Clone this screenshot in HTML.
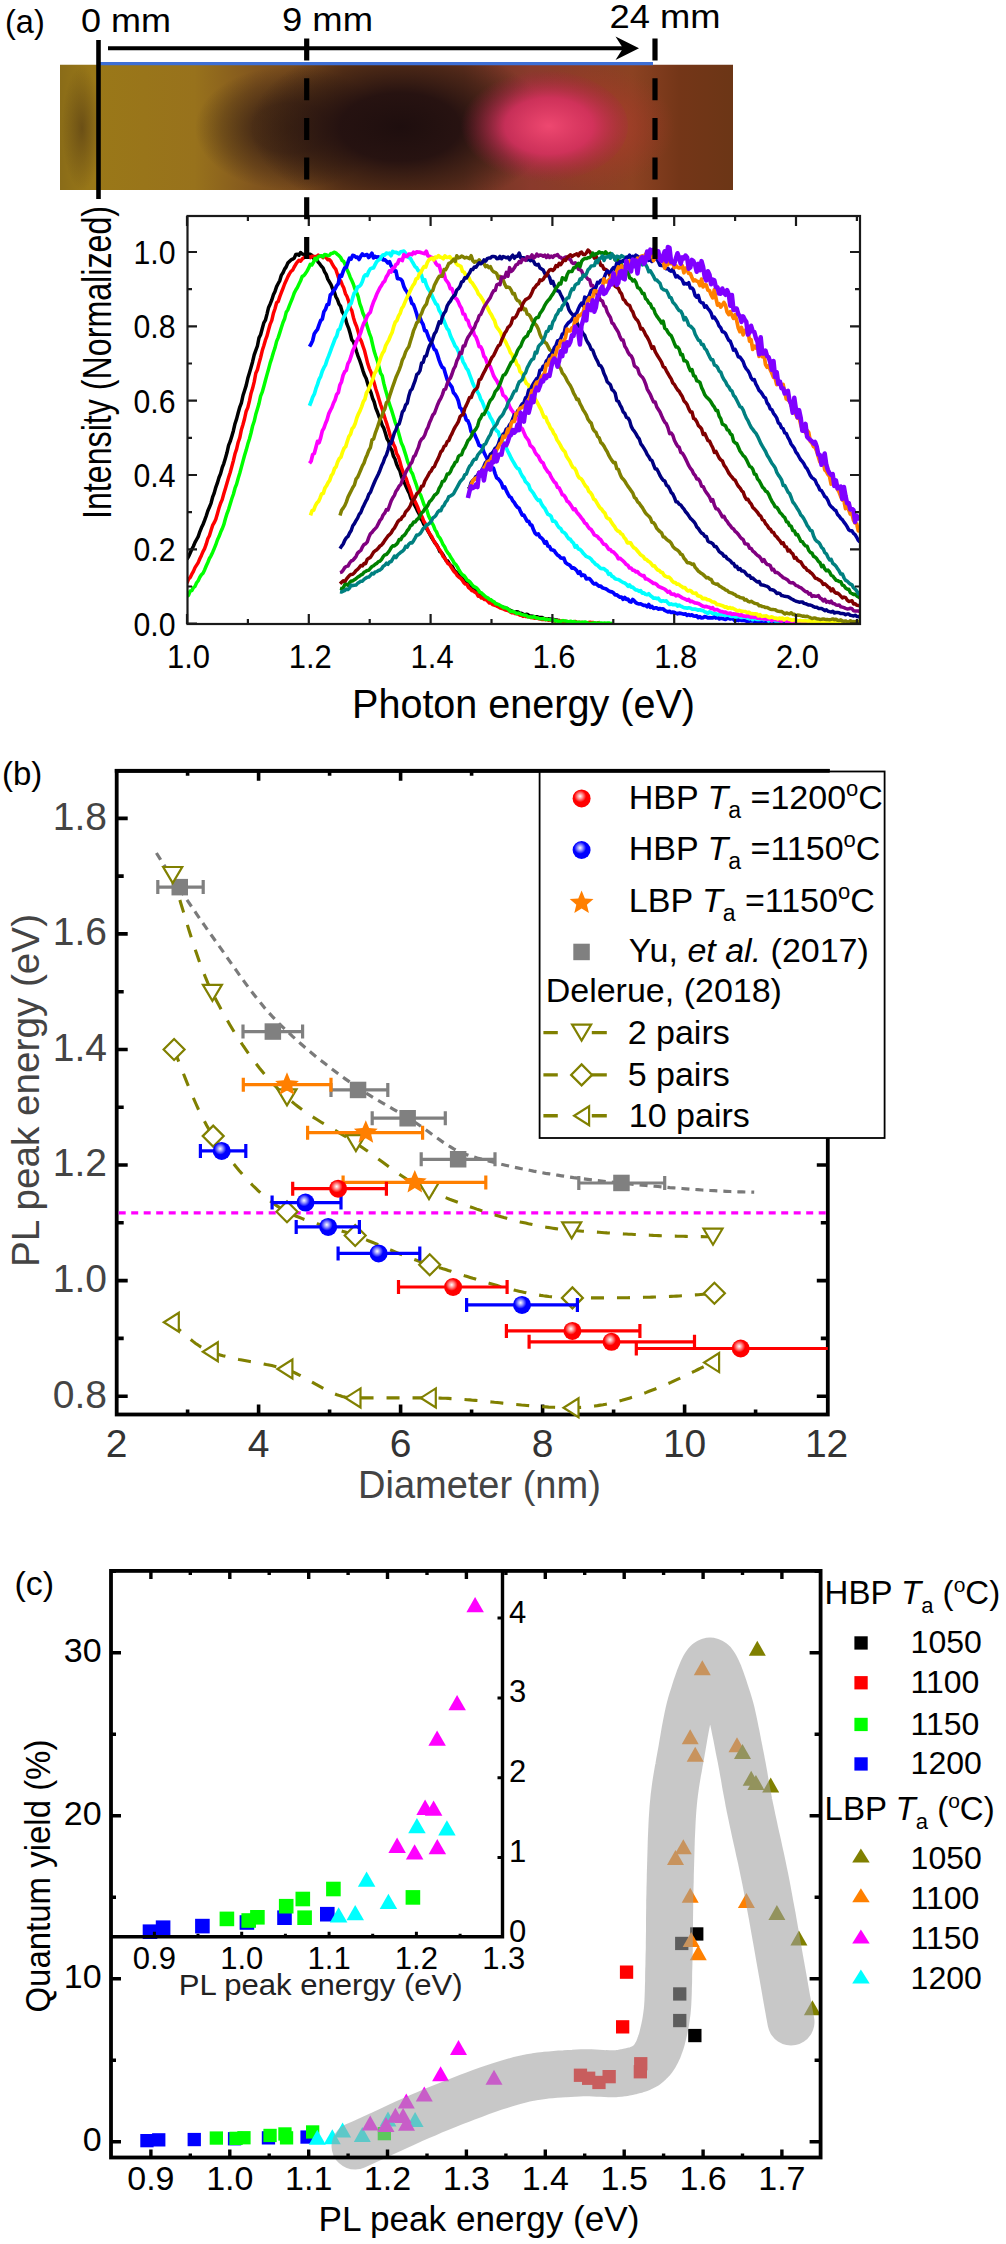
<!DOCTYPE html>
<html><head><meta charset="utf-8"><style>html,body{margin:0;padding:0;background:#fff;overflow:hidden}svg{display:block}text{font-family:"Liberation Sans",sans-serif}</style></head><body>
<svg width="1006" height="2244" viewBox="0 0 1006 2244">
<defs><radialGradient id="gred" cx="0.42" cy="0.38" r="0.6"><stop offset="0" stop-color="#fff"/><stop offset="0.25" stop-color="#ff9090"/><stop offset="0.55" stop-color="#ff0000"/><stop offset="1" stop-color="#ff0000"/></radialGradient>
<radialGradient id="gblue" cx="0.42" cy="0.38" r="0.6"><stop offset="0" stop-color="#fff"/><stop offset="0.25" stop-color="#9090ff"/><stop offset="0.55" stop-color="#0000ff"/><stop offset="1" stop-color="#0000ff"/></radialGradient></defs>
<rect width="1006" height="2244" fill="#fff"/>
<defs>
<clipPath id="strip"><rect x="60" y="64.5" width="673" height="125.5"/></clipPath>
<linearGradient id="sbase" x1="60" y1="0" x2="733" y2="0" gradientUnits="userSpaceOnUse">
<stop offset="0" stop-color="#8a6c18"/>
<stop offset="0.05" stop-color="#9a7818"/>
<stop offset="0.2" stop-color="#98721c"/>
<stop offset="0.29" stop-color="#82561e"/>
<stop offset="0.42" stop-color="#6a3c1a"/>
<stop offset="0.6" stop-color="#6a3420"/>
<stop offset="0.7" stop-color="#8a3a2c"/>
<stop offset="0.85" stop-color="#8c4222"/>
<stop offset="0.92" stop-color="#743618"/>
<stop offset="1" stop-color="#6c3616"/>
</linearGradient>
<radialGradient id="gdark"><stop offset="0" stop-color="#1e0e0e" stop-opacity="1"/><stop offset="0.4" stop-color="#221010" stop-opacity="0.93"/><stop offset="0.72" stop-color="#2a1610" stop-opacity="0.5"/><stop offset="1" stop-color="#2a1610" stop-opacity="0"/></radialGradient>
<radialGradient id="gpink" cx="0.55" cy="0.5" r="0.5"><stop offset="0" stop-color="#ee4870" stop-opacity="1"/><stop offset="0.5" stop-color="#d83062" stop-opacity="0.85"/><stop offset="1" stop-color="#a02040" stop-opacity="0"/></radialGradient>
<radialGradient id="gorng"><stop offset="0" stop-color="#c8403a" stop-opacity="0.75"/><stop offset="0.6" stop-color="#a83a2a" stop-opacity="0.45"/><stop offset="1" stop-color="#a03828" stop-opacity="0"/></radialGradient>
<radialGradient id="gsmudge"><stop offset="0" stop-color="#5a4014" stop-opacity="0.7"/><stop offset="1" stop-color="#5a4014" stop-opacity="0"/></radialGradient>
<radialGradient id="gedge"><stop offset="0" stop-color="#000" stop-opacity="0"/><stop offset="0.8" stop-color="#000" stop-opacity="0"/><stop offset="1" stop-color="#000" stop-opacity="0"/></radialGradient>
</defs>
<g clip-path="url(#strip)">
<rect x="60" y="64.5" width="673" height="125.5" fill="url(#sbase)"/>
<ellipse cx="82" cy="128" rx="20" ry="62" fill="url(#gsmudge)"/>
<ellipse cx="290" cy="128" rx="95" ry="62" fill="url(#gdark)" opacity="0.6"/>
<ellipse cx="400" cy="127" rx="150" ry="85" fill="url(#gdark)"/>
<ellipse cx="585" cy="127" rx="90" ry="62" fill="url(#gorng)"/>
<ellipse cx="540" cy="126" rx="88" ry="56" fill="url(#gpink)"/>
</g>
<line x1="98" y1="63.7" x2="653" y2="63.7" stroke="#3d6fd6" stroke-width="3.2"/>
<line x1="98.5" y1="40" x2="98.5" y2="199" stroke="#000" stroke-width="4.6"/>
<line x1="108" y1="48.3" x2="630" y2="48.3" stroke="#000" stroke-width="4"/>
<path d="M639,48.3 L615.5,36.5 L623,48.3 L615.5,60 Z" fill="#000"/>
<text x="5" y="33" font-size="32.5" font-family="Liberation Sans, sans-serif">(a)</text>
<text x="81" y="31.5" font-size="33" textLength="90" lengthAdjust="spacingAndGlyphs" font-family="Liberation Sans, sans-serif">0 mm</text>
<text x="282" y="31.3" font-size="33" textLength="91" lengthAdjust="spacingAndGlyphs" font-family="Liberation Sans, sans-serif">9 mm</text>
<text x="609.5" y="27.6" font-size="33" textLength="111" lengthAdjust="spacingAndGlyphs" font-family="Liberation Sans, sans-serif">24 mm</text>
<clipPath id="aclip"><rect x="188" y="217" width="671" height="406"/></clipPath>
<g clip-path="url(#aclip)"><path d="M187.0,559.3 188.6,556.4 190.2,552.9 191.8,549.3 193.4,546.2 195.0,542.4 196.6,539.5 198.2,536.7 199.8,531.8 201.4,527.8 203.0,524.5 204.6,520.4 206.2,516.0 207.8,511.0 209.4,507.2 211.0,503.3 212.6,497.2 214.2,493.1 215.8,487.3 217.4,482.9 219.0,477.5 220.6,473.6 222.2,467.7 223.8,463.6 225.4,458.2 227.0,452.6 228.6,445.3 230.2,441.4 231.8,436.2 233.4,430.7 235.0,423.7 236.6,418.9 238.2,412.7 239.8,407.1 241.4,402.9 243.0,395.5 244.6,390.4 246.2,385.4 247.8,378.3 249.4,373.0 251.0,367.4 252.6,361.7 254.2,354.9 255.8,350.4 257.4,346.0 259.0,337.9 260.6,334.7 262.2,328.8 263.8,322.9 265.4,320.2 267.0,314.1 268.6,307.4 270.2,303.9 271.8,299.9 273.4,294.8 275.0,291.4 276.6,286.6 278.2,283.5 279.8,280.6 281.4,275.1 283.0,272.7 284.6,269.1 286.2,266.9 287.8,263.1 289.4,261.5 291.0,259.9 292.6,259.2 294.2,258.1 295.8,254.5 297.4,254.2 299.0,255.2 300.6,252.5 302.2,254.0 303.8,254.4 305.4,255.8 307.0,255.2 308.6,254.2 310.2,254.3 311.8,255.2 313.4,258.1 315.0,257.6 316.6,259.5 318.2,262.1 319.8,263.9 321.4,266.2 323.0,267.9 324.6,271.8 326.2,274.4 327.8,279.1 329.4,281.8 331.0,284.6 332.6,288.8 334.2,291.5 335.8,296.6 337.4,299.5 339.0,304.0 340.6,306.3 342.2,312.0 343.8,314.3 345.4,318.3 347.0,324.2 348.6,328.1 350.2,333.5 351.8,339.9 353.4,341.7 355.0,346.4 356.6,351.8 358.2,356.7 359.8,360.7 361.4,365.4 363.0,370.8 364.6,375.3 366.2,378.6 367.8,384.1 369.4,388.9 371.0,392.6 372.6,398.3 374.2,402.0 375.8,408.1 377.4,412.0 379.0,416.5 380.6,420.4 382.2,425.3 383.8,428.2 385.4,433.3 387.0,438.8 388.6,441.2 390.2,447.8 391.8,450.0 393.4,456.1 395.0,459.0 396.6,464.3 398.2,467.8 399.8,470.5 401.4,476.4 403.0,480.4 404.6,483.1 406.2,486.7 407.8,490.4 409.4,493.4 411.0,498.4 412.6,500.7 414.2,504.5 415.8,507.3 417.4,510.8 419.0,513.5 420.6,518.4 422.2,520.6 423.8,524.3 425.4,526.7 427.0,529.1 428.6,532.2 430.2,534.9 431.8,537.9 433.4,540.4 435.0,543.0 436.6,544.9 438.2,547.7 439.8,551.6 441.4,552.6 443.0,554.7 444.6,557.7 446.2,560.6 447.8,561.0 449.4,563.8 451.0,565.6 452.6,566.9 454.2,570.2 455.8,571.7 457.4,573.5 459.0,574.8 460.6,577.2 462.2,578.3 463.8,580.1 465.4,581.2 467.0,582.7 468.6,585.5 470.2,585.9 471.8,587.7 473.4,588.9 475.0,590.0 476.6,591.2 478.2,593.0 479.8,593.7 481.4,594.9 483.0,596.1 484.6,597.8 486.2,598.5 487.8,599.4 489.4,599.9 491.0,600.5 492.6,602.5 494.2,603.3 495.8,603.7 497.4,604.8 499.0,605.7 500.6,606.4 502.2,607.2 503.8,607.3 505.4,608.8 507.0,608.3 508.6,609.8 510.2,610.2 511.8,611.0 513.4,612.0 515.0,612.3 516.6,611.7 518.2,612.0 519.8,613.5 521.4,613.2 523.0,614.1 524.6,614.9 526.2,614.3 527.8,614.5 529.4,615.8 531.0,616.1 532.6,616.3 534.2,616.7 535.8,616.7 537.4,616.8 539.0,617.6 540.6,617.5 542.2,617.6 543.8,618.6 545.4,618.7 547.0,619.1 548.6,618.8 550.2,619.1 551.8,619.2 553.4,619.4 555.0,620.0 556.6,619.9 558.2,620.4 559.8,620.6" fill="none" stroke="#000000" stroke-width="3.5" stroke-linejoin="round"/>
<path d="M187.0,583.2 188.6,578.9 190.2,577.5 191.8,574.2 193.4,571.4 195.0,567.6 196.6,565.1 198.2,562.6 199.8,558.8 201.4,555.4 203.0,551.6 204.6,548.7 206.2,544.2 207.8,538.8 209.4,535.7 211.0,530.6 212.6,525.4 214.2,522.7 215.8,519.3 217.4,513.7 219.0,508.0 220.6,503.2 222.2,499.6 223.8,493.7 225.4,488.4 227.0,482.9 228.6,477.5 230.2,472.5 231.8,466.6 233.4,460.6 235.0,453.8 236.6,449.1 238.2,442.2 239.8,437.6 241.4,429.7 243.0,424.5 244.6,418.5 246.2,411.2 247.8,407.6 249.4,401.2 251.0,393.4 252.6,388.3 254.2,381.9 255.8,373.2 257.4,369.7 259.0,363.4 260.6,357.6 262.2,350.8 263.8,345.8 265.4,340.2 267.0,335.9 268.6,329.7 270.2,324.1 271.8,320.4 273.4,313.4 275.0,308.8 276.6,302.7 278.2,301.5 279.8,296.6 281.4,292.4 283.0,288.3 284.6,284.0 286.2,280.6 287.8,276.9 289.4,273.9 291.0,271.4 292.6,270.2 294.2,267.0 295.8,264.3 297.4,261.9 299.0,260.3 300.6,261.2 302.2,259.0 303.8,257.8 305.4,256.8 307.0,255.7 308.6,256.6 310.2,257.6 311.8,256.3 313.4,256.5 315.0,256.5 316.6,256.8 318.2,255.1 319.8,256.5 321.4,255.8 323.0,257.6 324.6,255.9 326.2,257.6 327.8,259.7 329.4,259.6 331.0,261.5 332.6,264.7 334.2,267.3 335.8,269.4 337.4,274.2 339.0,279.2 340.6,280.7 342.2,284.7 343.8,288.0 345.4,293.6 347.0,296.5 348.6,301.1 350.2,308.0 351.8,310.7 353.4,317.4 355.0,322.7 356.6,326.5 358.2,331.9 359.8,338.2 361.4,341.4 363.0,346.2 364.6,350.8 366.2,357.3 367.8,363.8 369.4,368.6 371.0,372.2 372.6,377.5 374.2,383.1 375.8,389.0 377.4,393.8 379.0,399.3 380.6,404.5 382.2,409.1 383.8,414.4 385.4,419.7 387.0,424.4 388.6,429.8 390.2,435.8 391.8,439.6 393.4,443.9 395.0,447.3 396.6,453.6 398.2,456.3 399.8,461.3 401.4,467.4 403.0,471.7 404.6,475.4 406.2,478.5 407.8,483.6 409.4,487.5 411.0,492.4 412.6,497.5 414.2,499.9 415.8,503.0 417.4,506.4 419.0,510.8 420.6,514.2 422.2,517.0 423.8,521.3 425.4,523.7 427.0,528.4 428.6,531.6 430.2,534.6 431.8,536.6 433.4,540.2 435.0,542.6 436.6,545.2 438.2,548.0 439.8,550.0 441.4,552.5 443.0,556.3 444.6,558.1 446.2,560.7 447.8,563.5 449.4,564.1 451.0,566.8 452.6,569.4 454.2,571.6 455.8,573.1 457.4,575.8 459.0,577.2 460.6,578.2 462.2,580.1 463.8,582.7 465.4,584.1 467.0,584.4 468.6,587.6 470.2,588.7 471.8,590.5 473.4,591.0 475.0,592.3 476.6,593.2 478.2,596.3 479.8,596.1 481.4,598.1 483.0,598.1 484.6,599.6 486.2,599.7 487.8,601.3 489.4,602.9 491.0,602.8 492.6,604.7 494.2,605.2 495.8,605.4 497.4,606.4 499.0,607.2 500.6,608.1 502.2,608.6 503.8,609.1 505.4,610.0 507.0,610.3 508.6,610.8 510.2,611.9 511.8,612.8 513.4,612.3 515.0,613.5 516.6,613.7 518.2,614.0 519.8,615.2 521.4,615.0 523.0,616.3 524.6,615.7 526.2,616.6 527.8,616.7 529.4,616.8 531.0,617.6 532.6,617.7 534.2,618.2 535.8,618.3 537.4,618.1 539.0,618.8 540.6,619.1 542.2,619.6 543.8,619.2 545.4,619.7 547.0,619.3 548.6,620.3 550.2,619.9 551.8,619.8 553.4,620.6 555.0,621.2 556.6,620.4 558.2,620.7 559.8,621.0 561.4,620.9 563.0,621.6 564.6,621.3 566.2,621.4 567.8,622.0 569.4,621.6 571.0,622.2 572.6,621.8 574.2,621.8 575.8,621.6 577.4,623.0 579.0,622.3 580.6,622.6 582.2,622.5 583.8,622.7 585.4,622.7 587.0,623.4 588.6,622.4 590.2,622.3 591.8,622.6 593.4,622.5 595.0,623.2 596.6,623.3 598.2,622.7 599.8,622.6" fill="none" stroke="#ff0000" stroke-width="3.5" stroke-linejoin="round"/>
<path d="M187.0,596.2 188.6,595.2 190.2,591.0 191.8,590.6 193.4,587.6 195.0,586.4 196.6,582.8 198.2,580.7 199.8,577.3 201.4,574.8 203.0,573.2 204.6,569.9 206.2,566.0 207.8,562.5 209.4,558.5 211.0,555.8 212.6,552.4 214.2,548.6 215.8,544.7 217.4,540.0 219.0,536.6 220.6,532.3 222.2,528.8 223.8,524.7 225.4,518.8 227.0,513.6 228.6,509.3 230.2,504.0 231.8,498.8 233.4,494.2 235.0,488.2 236.6,484.1 238.2,478.2 239.8,473.0 241.4,467.1 243.0,461.1 244.6,455.3 246.2,450.1 247.8,444.1 249.4,439.0 251.0,433.0 252.6,426.0 254.2,421.3 255.8,414.3 257.4,409.0 259.0,403.5 260.6,396.1 262.2,392.2 263.8,386.5 265.4,380.5 267.0,374.6 268.6,369.0 270.2,362.9 271.8,358.1 273.4,352.5 275.0,347.8 276.6,341.4 278.2,337.6 279.8,332.6 281.4,327.5 283.0,322.5 284.6,318.8 286.2,312.3 287.8,309.9 289.4,305.6 291.0,301.6 292.6,297.8 294.2,293.1 295.8,290.0 297.4,287.5 299.0,284.1 300.6,280.8 302.2,276.3 303.8,275.6 305.4,273.7 307.0,271.1 308.6,268.2 310.2,264.4 311.8,265.0 313.4,262.3 315.0,258.4 316.6,259.9 318.2,256.8 319.8,256.0 321.4,255.7 323.0,256.9 324.6,254.6 326.2,254.7 327.8,255.8 329.4,255.4 331.0,253.5 332.6,253.3 334.2,252.2 335.8,252.8 337.4,254.4 339.0,255.7 340.6,257.4 342.2,260.6 343.8,261.6 345.4,265.3 347.0,269.4 348.6,272.9 350.2,277.2 351.8,280.6 353.4,284.2 355.0,289.2 356.6,292.5 358.2,296.6 359.8,303.6 361.4,307.9 363.0,313.4 364.6,316.6 366.2,323.1 367.8,328.2 369.4,333.3 371.0,337.5 372.6,344.7 374.2,351.3 375.8,356.3 377.4,360.9 379.0,367.0 380.6,373.2 382.2,375.6 383.8,383.4 385.4,389.5 387.0,395.0 388.6,401.3 390.2,406.2 391.8,410.9 393.4,416.2 395.0,421.8 396.6,425.9 398.2,431.5 399.8,437.3 401.4,443.1 403.0,446.4 404.6,451.4 406.2,456.4 407.8,462.0 409.4,465.6 411.0,471.3 412.6,474.0 414.2,479.0 415.8,483.3 417.4,488.3 419.0,492.6 420.6,494.9 422.2,499.3 423.8,504.1 425.4,507.3 427.0,510.4 428.6,515.9 430.2,519.1 431.8,522.6 433.4,525.3 435.0,529.6 436.6,532.0 438.2,536.1 439.8,537.9 441.4,540.9 443.0,544.5 444.6,546.8 446.2,550.4 447.8,552.8 449.4,554.7 451.0,557.8 452.6,560.0 454.2,563.1 455.8,564.5 457.4,566.9 459.0,570.0 460.6,572.7 462.2,574.6 463.8,575.5 465.4,577.4 467.0,580.0 468.6,580.9 470.2,582.2 471.8,584.4 473.4,586.2 475.0,587.1 476.6,588.1 478.2,589.7 479.8,592.2 481.4,592.8 483.0,594.4 484.6,595.8 486.2,597.2 487.8,597.9 489.4,599.4 491.0,599.8 492.6,601.1 494.2,601.8 495.8,603.8 497.4,604.1 499.0,604.7 500.6,605.7 502.2,606.6 503.8,607.8 505.4,607.5 507.0,608.5 508.6,609.4 510.2,611.4 511.8,611.3 513.4,611.4 515.0,612.4 516.6,613.5 518.2,613.1 519.8,613.5 521.4,614.6 523.0,614.8 524.6,615.3 526.2,615.3 527.8,616.7 529.4,617.0 531.0,616.9 532.6,617.3 534.2,616.5 535.8,617.9 537.4,617.9 539.0,618.4 540.6,618.8 542.2,618.7 543.8,618.4 545.4,619.4 547.0,619.2 548.6,619.6 550.2,619.7 551.8,620.0 553.4,619.5 555.0,620.9 556.6,620.8 558.2,621.2 559.8,621.7 561.4,621.1 563.0,620.6 564.6,621.1 566.2,621.1 567.8,621.5 569.4,621.8 571.0,621.2 572.6,622.1 574.2,621.5 575.8,622.3 577.4,622.2 579.0,622.2 580.6,622.4 582.2,622.3 583.8,622.3 585.4,622.0 587.0,622.7 588.6,623.4 590.2,623.5 591.8,623.3 593.4,623.1 595.0,622.7 596.6,623.5 598.2,623.0 599.8,623.0 601.4,623.0 603.0,623.2 604.6,623.0 606.2,623.2 607.8,622.9 609.4,623.1 611.0,623.7 612.6,623.3" fill="none" stroke="#00ff00" stroke-width="3.5" stroke-linejoin="round"/>
<path d="M309.5,346.6 311.1,344.0 312.7,340.5 314.3,333.7 315.9,331.4 317.5,329.4 319.1,324.6 320.7,320.5 322.3,319.1 323.9,311.7 325.5,309.3 327.1,304.6 328.7,304.4 330.3,295.0 331.9,293.6 333.5,290.4 335.1,289.0 336.7,285.6 338.3,283.7 339.9,275.4 341.5,276.3 343.1,271.6 344.7,268.1 346.3,267.5 347.9,262.5 349.5,258.2 351.1,259.1 352.7,255.4 354.3,255.7 355.9,257.3 357.5,257.2 359.1,259.5 360.7,256.4 362.3,254.0 363.9,255.4 365.5,255.1 367.1,254.6 368.7,257.5 370.3,255.6 371.9,253.2 373.5,257.9 375.1,256.5 376.7,257.3 378.3,256.9 379.9,257.8 381.5,256.9 383.1,259.8 384.7,259.7 386.3,261.1 387.9,262.9 389.5,261.6 391.1,265.9 392.7,268.0 394.3,271.2 395.9,270.9 397.5,278.7 399.1,278.7 400.7,279.2 402.3,281.2 403.9,286.6 405.5,289.9 407.1,291.9 408.7,296.3 410.3,298.2 411.9,303.4 413.5,304.5 415.1,309.0 416.7,314.0 418.3,319.9 419.9,317.4 421.5,321.7 423.1,324.5 424.7,330.6 426.3,330.9 427.9,335.5 429.5,339.7 431.1,341.6 432.7,345.2 434.3,349.4 435.9,350.4 437.5,354.9 439.1,360.1 440.7,364.4 442.3,367.4 443.9,368.4 445.5,373.9 447.1,379.3 448.7,382.4 450.3,384.9 451.9,387.1 453.5,392.8 455.1,394.4 456.7,396.9 458.3,400.8 459.9,407.5 461.5,409.0 463.1,413.7 464.7,414.6 466.3,419.9 467.9,420.9 469.5,424.7 471.1,431.6 472.7,432.4 474.3,433.7 475.9,437.4 477.5,441.0 479.1,445.3 480.7,446.0 482.3,447.3 483.9,452.2 485.5,455.5 487.1,458.6 488.7,463.0 490.3,464.5 491.9,468.0 493.5,468.2 495.1,473.6 496.7,477.9 498.3,478.8 499.9,480.8 501.5,483.3 503.1,487.9 504.7,487.0 506.3,490.6 507.9,493.8 509.5,496.6 511.1,497.5 512.7,500.8 514.3,502.5 515.9,505.3 517.5,507.2 519.1,508.3 520.7,511.9 522.3,515.1 523.9,515.1 525.5,518.1 527.1,521.2 528.7,521.3 530.3,524.7 531.9,525.3 533.5,529.8 535.1,533.1 536.7,534.6 538.3,534.0 539.9,536.9 541.5,538.0 543.1,539.8 544.7,543.1 546.3,541.7 547.9,546.0 549.5,546.5 551.1,549.7 552.7,550.0 554.3,550.7 555.9,553.2 557.5,555.2 559.1,556.0 560.7,557.9 562.3,558.3 563.9,558.1 565.5,562.6 567.1,563.8 568.7,564.6 570.3,565.8 571.9,568.1 573.5,567.9 575.1,568.9 576.7,570.6 578.3,573.2 579.9,571.8 581.5,575.5 583.1,574.9 584.7,575.5 586.3,578.9 587.9,578.6 589.5,578.6 591.1,580.5 592.7,582.7 594.3,583.9 595.9,583.4 597.5,585.1 599.1,586.3 600.7,586.0 602.3,587.8 603.9,588.3 605.5,588.7 607.1,589.6 608.7,590.9 610.3,591.6 611.9,591.9 613.5,592.8 615.1,594.9 616.7,594.8 618.3,596.1 619.9,597.1 621.5,597.2 623.1,599.3 624.7,597.4 626.3,599.4 627.9,599.1 629.5,601.5 631.1,602.0 632.7,599.5 634.3,600.9 635.9,602.8 637.5,603.5 639.1,604.0 640.7,603.8 642.3,604.8 643.9,605.4 645.5,605.3 647.1,606.7 648.7,604.5 650.3,607.3 651.9,606.4 653.5,608.4 655.1,607.9 656.7,607.8 658.3,609.2 659.9,608.6 661.5,609.0 663.1,608.8 664.7,610.4 666.3,611.1 667.9,611.9 669.5,611.3 671.1,612.5 672.7,612.1 674.3,612.3 675.9,613.1 677.5,613.8 679.1,613.1 680.7,613.4 682.3,613.7 683.9,614.2 685.5,613.8 687.1,615.4 688.7,614.6 690.3,615.5 691.9,614.8 693.5,615.9 695.1,616.1 696.7,615.8 698.3,617.7 699.9,616.7 701.5,617.9 703.1,617.6 704.7,616.6 706.3,617.0 707.9,617.8 709.5,617.7 711.1,617.8 712.7,617.8 714.3,616.9 715.9,618.1 717.5,617.0 719.1,618.9 720.7,618.3 722.3,618.4 723.9,618.9 725.5,619.4 727.1,618.4 728.7,618.3 730.3,618.9 731.9,618.3 733.5,619.2 735.1,620.9 736.7,619.3 738.3,620.6 739.9,619.4 741.5,620.5 743.1,620.2 744.7,620.5 746.3,621.0 747.9,621.8 749.5,620.9 751.1,621.0 752.7,620.4 754.3,621.4 755.9,621.0 757.5,621.7 759.1,621.3 760.7,622.5 762.3,620.2 763.9,621.3 765.5,622.1 767.1,621.4 768.7,621.2 770.3,621.6 771.9,621.0 773.5,622.0 775.1,623.4 776.7,622.7 778.3,621.4 779.9,621.6 781.5,621.9 783.1,622.8 784.7,621.8 786.3,621.9 787.9,622.9 789.5,622.9 791.1,622.2 792.7,621.8 794.3,621.6 795.9,622.1 797.5,621.3 799.1,623.1 800.7,622.3 802.3,623.0 803.9,623.7 805.5,623.4 807.1,622.1 808.7,623.3 810.3,623.5 811.9,622.4 813.5,622.3 815.1,622.8 816.7,622.0 818.3,623.7 819.9,621.6 821.5,622.4 823.1,622.9 824.7,622.9 826.3,623.2 827.9,623.3 829.5,623.0 831.1,623.7 832.7,621.9 834.3,623.2 835.9,622.8 837.5,623.3 839.1,623.3 840.7,622.7 842.3,622.9 843.9,623.7 845.5,623.5 847.1,622.9 848.7,623.7 850.3,623.7 851.9,622.5 853.5,623.5 855.1,623.7 856.7,623.7 858.3,623.5 859.9,623.3" fill="none" stroke="#0000ff" stroke-width="3.7" stroke-linejoin="round"/>
<path d="M309.5,405.7 311.1,401.8 312.7,397.1 314.3,394.2 315.9,388.7 317.5,384.4 319.1,379.3 320.7,376.3 322.3,371.1 323.9,367.7 325.5,364.9 327.1,359.9 328.7,355.9 330.3,351.6 331.9,347.2 333.5,343.0 335.1,338.7 336.7,336.0 338.3,330.0 339.9,328.9 341.5,323.6 343.1,318.9 344.7,315.6 346.3,311.7 347.9,309.2 349.5,304.7 351.1,303.5 352.7,297.9 354.3,292.9 355.9,291.6 357.5,287.0 359.1,286.5 360.7,285.0 362.3,281.7 363.9,276.7 365.5,274.8 367.1,275.5 368.7,271.5 370.3,268.9 371.9,268.1 373.5,267.9 375.1,264.7 376.7,261.6 378.3,260.3 379.9,259.3 381.5,256.5 383.1,254.8 384.7,255.2 386.3,253.1 387.9,253.6 389.5,253.2 391.1,255.7 392.7,251.5 394.3,252.3 395.9,252.3 397.5,253.0 399.1,253.8 400.7,251.9 402.3,251.5 403.9,251.1 405.5,253.2 407.1,256.5 408.7,257.6 410.3,258.2 411.9,261.1 413.5,263.8 415.1,266.7 416.7,267.8 418.3,270.8 419.9,271.5 421.5,275.1 423.1,281.3 424.7,279.6 426.3,284.8 427.9,288.4 429.5,290.8 431.1,293.4 432.7,297.4 434.3,300.7 435.9,303.8 437.5,305.0 439.1,310.3 440.7,312.8 442.3,316.5 443.9,320.8 445.5,324.7 447.1,328.4 448.7,330.2 450.3,335.2 451.9,338.9 453.5,342.3 455.1,346.0 456.7,347.7 458.3,351.2 459.9,355.7 461.5,356.7 463.1,361.9 464.7,364.5 466.3,368.1 467.9,370.0 469.5,374.4 471.1,378.7 472.7,383.1 474.3,386.5 475.9,388.7 477.5,391.9 479.1,394.6 480.7,399.2 482.3,401.8 483.9,405.9 485.5,410.3 487.1,411.7 488.7,413.4 490.3,417.2 491.9,419.7 493.5,423.1 495.1,428.8 496.7,430.7 498.3,432.0 499.9,437.2 501.5,440.8 503.1,442.1 504.7,444.8 506.3,448.0 507.9,451.5 509.5,454.7 511.1,458.0 512.7,460.8 514.3,463.5 515.9,466.4 517.5,468.5 519.1,469.1 520.7,473.0 522.3,476.0 523.9,478.0 525.5,481.7 527.1,483.1 528.7,485.0 530.3,489.6 531.9,491.3 533.5,493.3 535.1,496.3 536.7,498.8 538.3,500.4 539.9,500.2 541.5,504.0 543.1,506.4 544.7,508.2 546.3,511.3 547.9,514.3 549.5,514.9 551.1,516.4 552.7,521.1 554.3,521.0 555.9,522.4 557.5,525.5 559.1,527.6 560.7,528.5 562.3,531.6 563.9,532.4 565.5,533.8 567.1,536.5 568.7,538.7 570.3,539.3 571.9,541.7 573.5,543.1 575.1,547.0 576.7,545.8 578.3,549.0 579.9,549.4 581.5,550.9 583.1,553.1 584.7,554.7 586.3,556.4 587.9,557.1 589.5,557.8 591.1,559.2 592.7,561.3 594.3,562.7 595.9,564.6 597.5,565.2 599.1,566.9 600.7,568.5 602.3,568.7 603.9,568.7 605.5,570.1 607.1,571.1 608.7,574.3 610.3,573.7 611.9,576.2 613.5,576.9 615.1,578.7 616.7,579.2 618.3,579.5 619.9,580.4 621.5,581.5 623.1,582.5 624.7,583.0 626.3,584.2 627.9,586.2 629.5,584.9 631.1,587.1 632.7,587.1 634.3,588.7 635.9,589.9 637.5,590.1 639.1,591.4 640.7,590.7 642.3,593.1 643.9,592.8 645.5,594.3 647.1,594.7 648.7,593.7 650.3,595.5 651.9,596.7 653.5,598.2 655.1,598.0 656.7,598.6 658.3,598.2 659.9,600.5 661.5,601.3 663.1,600.8 664.7,601.2 666.3,600.9 667.9,602.9 669.5,604.5 671.1,603.9 672.7,604.7 674.3,604.7 675.9,604.3 677.5,606.1 679.1,605.1 680.7,606.1 682.3,606.8 683.9,607.6 685.5,607.8 687.1,608.1 688.7,607.9 690.3,608.0 691.9,609.1 693.5,609.1 695.1,609.1 696.7,609.5 698.3,610.2 699.9,609.8 701.5,610.4 703.1,610.6 704.7,611.9 706.3,612.3 707.9,613.5 709.5,611.9 711.1,612.6 712.7,613.7 714.3,613.4 715.9,613.6 717.5,614.9 719.1,614.1 720.7,614.0 722.3,614.1 723.9,615.2 725.5,615.4 727.1,614.8 728.7,615.2 730.3,616.2 731.9,616.4 733.5,616.0 735.1,616.8 736.7,617.0 738.3,616.0 739.9,616.9 741.5,617.5 743.1,617.1 744.7,616.6 746.3,617.6 747.9,618.3 749.5,618.8 751.1,617.2 752.7,619.6 754.3,618.0 755.9,619.1 757.5,619.4 759.1,619.4 760.7,619.1 762.3,618.6 763.9,619.6 765.5,619.1 767.1,618.4 768.7,621.0 770.3,620.1 771.9,620.7 773.5,619.6 775.1,620.8 776.7,620.9 778.3,621.0 779.9,620.4 781.5,619.9 783.1,620.5 784.7,619.7 786.3,620.0 787.9,620.9 789.5,620.5 791.1,620.9 792.7,621.0 794.3,622.0 795.9,621.8 797.5,621.3 799.1,621.9 800.7,621.1 802.3,621.3 803.9,622.0 805.5,621.1 807.1,621.6 808.7,621.2 810.3,621.9 811.9,622.6 813.5,621.6 815.1,622.1 816.7,621.6 818.3,621.6 819.9,621.6 821.5,622.8 823.1,623.2 824.7,622.5 826.3,622.0 827.9,622.6 829.5,622.2 831.1,622.8 832.7,622.6 834.3,622.6 835.9,622.8 837.5,622.3 839.1,622.4 840.7,621.9 842.3,622.5 843.9,622.1 845.5,622.7 847.1,622.3 848.7,622.8 850.3,623.0 851.9,622.2 853.5,622.5 855.1,622.5 856.7,623.2 858.3,623.6 859.9,623.3" fill="none" stroke="#00ffff" stroke-width="3.7" stroke-linejoin="round"/>
<path d="M309.5,463.3 311.1,461.2 312.7,454.5 314.3,453.5 315.9,447.5 317.5,441.4 319.1,442.7 320.7,437.6 322.3,430.9 323.9,428.1 325.5,423.5 327.1,419.7 328.7,413.9 330.3,410.5 331.9,407.5 333.5,403.0 335.1,399.8 336.7,394.4 338.3,392.6 339.9,385.0 341.5,381.8 343.1,375.2 344.7,371.7 346.3,370.3 347.9,363.6 349.5,361.0 351.1,356.2 352.7,350.9 354.3,347.6 355.9,343.3 357.5,339.3 359.1,336.7 360.7,332.6 362.3,327.3 363.9,323.0 365.5,320.6 367.1,316.3 368.7,314.0 370.3,312.3 371.9,306.6 373.5,302.0 375.1,298.5 376.7,294.3 378.3,291.0 379.9,287.8 381.5,285.5 383.1,282.5 384.7,281.1 386.3,276.9 387.9,274.6 389.5,270.8 391.1,272.0 392.7,268.3 394.3,267.8 395.9,264.6 397.5,263.7 399.1,259.8 400.7,259.5 402.3,260.6 403.9,254.6 405.5,256.5 407.1,256.4 408.7,254.1 410.3,254.1 411.9,254.6 413.5,252.2 415.1,253.5 416.7,251.9 418.3,252.1 419.9,252.2 421.5,252.8 423.1,253.2 424.7,253.6 426.3,251.2 427.9,255.9 429.5,256.2 431.1,257.3 432.7,257.8 434.3,260.2 435.9,263.3 437.5,265.4 439.1,265.3 440.7,270.9 442.3,276.3 443.9,273.1 445.5,279.4 447.1,281.5 448.7,283.8 450.3,288.6 451.9,288.5 453.5,293.2 455.1,297.9 456.7,299.0 458.3,301.9 459.9,305.7 461.5,308.2 463.1,313.9 464.7,314.2 466.3,319.5 467.9,320.3 469.5,325.8 471.1,328.2 472.7,328.6 474.3,334.9 475.9,336.9 477.5,341.0 479.1,346.6 480.7,346.8 482.3,350.1 483.9,356.3 485.5,358.1 487.1,362.9 488.7,364.8 490.3,366.7 491.9,370.9 493.5,375.5 495.1,378.4 496.7,380.6 498.3,383.8 499.9,386.8 501.5,389.4 503.1,395.3 504.7,396.3 506.3,398.2 507.9,402.0 509.5,406.3 511.1,409.3 512.7,411.5 514.3,413.9 515.9,417.6 517.5,418.8 519.1,422.1 520.7,427.3 522.3,428.8 523.9,432.6 525.5,436.3 527.1,438.5 528.7,440.7 530.3,445.6 531.9,446.8 533.5,448.5 535.1,452.3 536.7,454.7 538.3,456.1 539.9,459.6 541.5,462.0 543.1,462.8 544.7,467.1 546.3,469.5 547.9,471.9 549.5,473.2 551.1,476.9 552.7,479.6 554.3,482.1 555.9,483.3 557.5,487.3 559.1,487.9 560.7,491.1 562.3,494.8 563.9,495.2 565.5,497.6 567.1,501.2 568.7,502.1 570.3,504.3 571.9,506.9 573.5,509.7 575.1,508.9 576.7,512.1 578.3,514.0 579.9,515.9 581.5,518.1 583.1,520.0 584.7,522.9 586.3,523.8 587.9,526.5 589.5,528.6 591.1,529.4 592.7,531.9 594.3,534.9 595.9,535.6 597.5,536.5 599.1,538.7 600.7,539.6 602.3,542.3 603.9,544.3 605.5,544.6 607.1,546.7 608.7,549.3 610.3,549.5 611.9,551.6 613.5,552.1 615.1,553.7 616.7,555.4 618.3,558.8 619.9,558.3 621.5,559.6 623.1,560.9 624.7,562.6 626.3,564.5 627.9,565.4 629.5,568.0 631.1,568.0 632.7,570.1 634.3,570.4 635.9,571.9 637.5,571.6 639.1,573.7 640.7,574.8 642.3,575.8 643.9,575.6 645.5,578.8 647.1,579.0 648.7,580.0 650.3,581.1 651.9,582.1 653.5,583.5 655.1,583.4 656.7,584.6 658.3,586.3 659.9,587.1 661.5,587.7 663.1,588.4 664.7,589.1 666.3,590.5 667.9,592.1 669.5,591.5 671.1,593.9 672.7,594.3 674.3,594.2 675.9,595.8 677.5,595.1 679.1,595.7 680.7,596.7 682.3,597.9 683.9,598.6 685.5,599.2 687.1,600.2 688.7,599.5 690.3,601.7 691.9,601.2 693.5,602.2 695.1,603.0 696.7,603.1 698.3,603.5 699.9,604.3 701.5,605.4 703.1,606.3 704.7,606.8 706.3,606.4 707.9,607.0 709.5,607.4 711.1,608.6 712.7,607.7 714.3,610.0 715.9,609.5 717.5,609.7 719.1,610.8 720.7,611.5 722.3,611.6 723.9,612.3 725.5,612.2 727.1,613.1 728.7,613.5 730.3,613.1 731.9,614.3 733.5,613.9 735.1,614.2 736.7,614.0 738.3,614.7 739.9,615.5 741.5,614.7 743.1,616.0 744.7,616.1 746.3,616.3 747.9,615.4 749.5,616.7 751.1,617.3 752.7,616.8 754.3,617.5 755.9,616.5 757.5,618.2 759.1,617.7 760.7,618.7 762.3,617.6 763.9,619.0 765.5,618.7 767.1,619.4 768.7,618.8 770.3,619.1 771.9,620.6 773.5,619.3 775.1,619.5 776.7,619.9 778.3,619.7 779.9,620.8 781.5,621.2 783.1,620.2 784.7,619.9 786.3,621.3 787.9,621.4 789.5,621.4 791.1,621.7 792.7,620.9 794.3,621.3 795.9,620.8 797.5,620.9 799.1,622.1 800.7,621.4 802.3,622.8 803.9,621.9 805.5,621.7 807.1,622.4 808.7,622.9 810.3,622.4 811.9,621.7 813.5,622.5 815.1,623.0 816.7,622.2 818.3,622.2 819.9,623.0 821.5,622.7 823.1,622.2 824.7,622.5 826.3,622.4 827.9,622.9 829.5,622.9 831.1,623.4 832.7,623.2 834.3,622.3 835.9,623.2 837.5,623.4 839.1,623.3 840.7,623.5 842.3,622.9 843.9,622.8 845.5,623.6 847.1,622.8 848.7,622.4 850.3,623.7 851.9,623.0 853.5,623.2 855.1,622.8 856.7,622.8 858.3,622.9 859.9,623.2" fill="none" stroke="#ff00ff" stroke-width="3.7" stroke-linejoin="round"/>
<path d="M310.5,515.3 312.1,510.5 313.7,510.1 315.3,505.8 316.9,503.0 318.5,501.4 320.1,497.9 321.7,493.7 323.3,493.4 324.9,488.1 326.5,485.8 328.1,482.6 329.7,480.4 331.3,475.6 332.9,473.5 334.5,468.6 336.1,466.8 337.7,461.8 339.3,458.6 340.9,457.1 342.5,452.1 344.1,448.3 345.7,446.6 347.3,441.3 348.9,436.5 350.5,434.2 352.1,428.7 353.7,427.0 355.3,423.2 356.9,417.7 358.5,413.8 360.1,410.6 361.7,406.6 363.3,401.7 364.9,399.2 366.5,392.7 368.1,390.3 369.7,386.3 371.3,382.4 372.9,378.9 374.5,373.4 376.1,371.2 377.7,366.4 379.3,361.9 380.9,357.1 382.5,353.3 384.1,350.9 385.7,345.6 387.3,342.7 388.9,339.8 390.5,335.8 392.1,332.5 393.7,326.7 395.3,322.1 396.9,320.5 398.5,316.1 400.1,313.3 401.7,308.5 403.3,306.2 404.9,302.4 406.5,298.8 408.1,295.3 409.7,291.9 411.3,288.5 412.9,285.5 414.5,283.3 416.1,278.8 417.7,278.5 419.3,273.9 420.9,272.6 422.5,269.0 424.1,266.6 425.7,267.1 427.3,262.6 428.9,259.8 430.5,258.9 432.1,258.1 433.7,259.9 435.3,257.1 436.9,257.7 438.5,255.6 440.1,257.1 441.7,257.5 443.3,258.7 444.9,255.9 446.5,257.4 448.1,257.4 449.7,256.7 451.3,258.8 452.9,259.7 454.5,258.7 456.1,263.5 457.7,265.0 459.3,265.6 460.9,266.4 462.5,271.4 464.1,272.1 465.7,275.0 467.3,277.6 468.9,277.7 470.5,281.5 472.1,282.7 473.7,285.3 475.3,287.8 476.9,290.4 478.5,294.2 480.1,295.7 481.7,298.1 483.3,300.7 484.9,304.1 486.5,305.6 488.1,308.9 489.7,312.2 491.3,314.6 492.9,317.9 494.5,320.4 496.1,326.1 497.7,328.3 499.3,330.4 500.9,332.9 502.5,338.3 504.1,339.4 505.7,342.0 507.3,345.5 508.9,348.6 510.5,352.8 512.1,354.5 513.7,359.7 515.3,359.8 516.9,364.5 518.5,365.9 520.1,371.8 521.7,372.8 523.3,376.2 524.9,380.2 526.5,383.6 528.1,384.4 529.7,388.2 531.3,390.3 532.9,394.8 534.5,397.7 536.1,400.5 537.7,403.2 539.3,406.5 540.9,409.2 542.5,413.4 544.1,417.3 545.7,417.0 547.3,421.7 548.9,424.3 550.5,428.1 552.1,429.7 553.7,433.3 555.3,435.3 556.9,439.7 558.5,442.0 560.1,444.6 561.7,447.9 563.3,450.1 564.9,451.7 566.5,456.3 568.1,458.7 569.7,461.0 571.3,464.6 572.9,467.4 574.5,468.1 576.1,470.9 577.7,475.5 579.3,477.9 580.9,478.6 582.5,480.7 584.1,483.6 585.7,486.2 587.3,487.7 588.9,491.4 590.5,492.7 592.1,495.1 593.7,499.1 595.3,500.1 596.9,502.9 598.5,505.6 600.1,508.0 601.7,509.3 603.3,511.7 604.9,513.2 606.5,517.2 608.1,518.5 609.7,519.2 611.3,522.1 612.9,524.6 614.5,526.4 616.1,529.3 617.7,530.9 619.3,531.4 620.9,533.6 622.5,534.5 624.1,537.5 625.7,539.2 627.3,542.8 628.9,542.6 630.5,542.8 632.1,545.5 633.7,547.7 635.3,548.4 636.9,550.3 638.5,552.2 640.1,554.2 641.7,555.4 643.3,556.5 644.9,559.1 646.5,559.6 648.1,561.1 649.7,562.0 651.3,563.7 652.9,566.0 654.5,565.9 656.1,568.2 657.7,570.0 659.3,570.6 660.9,572.3 662.5,572.6 664.1,575.4 665.7,576.4 667.3,577.1 668.9,577.0 670.5,578.5 672.1,580.9 673.7,582.4 675.3,582.6 676.9,584.2 678.5,584.1 680.1,585.4 681.7,586.5 683.3,587.7 684.9,587.5 686.5,589.8 688.1,591.0 689.7,590.4 691.3,591.2 692.9,593.0 694.5,593.3 696.1,593.1 697.7,595.7 699.3,596.1 700.9,596.5 702.5,598.7 704.1,598.4 705.7,598.6 707.3,599.7 708.9,599.8 710.5,600.6 712.1,601.9 713.7,602.0 715.3,602.7 716.9,604.4 718.5,604.6 720.1,605.1 721.7,605.6 723.3,606.1 724.9,607.1 726.5,606.9 728.1,608.4 729.7,607.5 731.3,608.3 732.9,608.2 734.5,609.2 736.1,610.1 737.7,611.0 739.3,610.4 740.9,611.1 742.5,611.3 744.1,611.5 745.7,611.7 747.3,612.7 748.9,612.2 750.5,613.4 752.1,613.7 753.7,613.8 755.3,613.9 756.9,614.1 758.5,615.9 760.1,614.7 761.7,616.3 763.3,616.2 764.9,616.0 766.5,615.9 768.1,617.1 769.7,617.7 771.3,616.8 772.9,617.3 774.5,618.1 776.1,618.0 777.7,618.9 779.3,618.0 780.9,618.7 782.5,618.1 784.1,619.8 785.7,618.7 787.3,618.3 788.9,619.3 790.5,619.5 792.1,620.5 793.7,619.7 795.3,620.0 796.9,620.4 798.5,621.0 800.1,620.4 801.7,621.0 803.3,620.9 804.9,620.7 806.5,621.0 808.1,621.1 809.7,620.8 811.3,621.8 812.9,620.8 814.5,621.9 816.1,622.0 817.7,621.6 819.3,621.4 820.9,621.7 822.5,622.1 824.1,622.3 825.7,622.2 827.3,622.5 828.9,622.0 830.5,622.4 832.1,621.7 833.7,622.7 835.3,622.5 836.9,622.4 838.5,623.0 840.1,622.9 841.7,621.6 843.3,622.7 844.9,622.2 846.5,623.2 848.1,623.7 849.7,622.7 851.3,623.0 852.9,622.9 854.5,623.1 856.1,623.3 857.7,623.6 859.3,622.7" fill="none" stroke="#ffff00" stroke-width="3.7" stroke-linejoin="round"/>
<path d="M340.0,515.5 341.6,510.2 343.2,508.1 344.8,505.6 346.4,501.9 348.0,497.1 349.6,493.9 351.2,490.7 352.8,487.5 354.4,485.1 356.0,479.2 357.6,477.2 359.2,473.6 360.8,469.8 362.4,465.9 364.0,463.1 365.6,458.2 367.2,454.7 368.8,450.4 370.4,447.6 372.0,439.9 373.6,439.0 375.2,433.4 376.8,429.2 378.4,424.4 380.0,419.2 381.6,416.6 383.2,412.0 384.8,409.0 386.4,402.7 388.0,401.4 389.6,395.9 391.2,391.1 392.8,386.3 394.4,381.9 396.0,377.2 397.6,373.6 399.2,369.9 400.8,365.5 402.4,359.8 404.0,356.9 405.6,352.0 407.2,349.0 408.8,346.8 410.4,341.3 412.0,336.2 413.6,330.6 415.2,326.9 416.8,322.7 418.4,321.6 420.0,316.1 421.6,313.3 423.2,308.9 424.8,306.2 426.4,304.2 428.0,298.3 429.6,295.4 431.2,291.6 432.8,290.5 434.4,285.2 436.0,282.1 437.6,279.0 439.2,276.3 440.8,276.1 442.4,276.2 444.0,269.6 445.6,269.8 447.2,267.0 448.8,263.4 450.4,262.8 452.0,261.3 453.6,259.4 455.2,261.5 456.8,255.8 458.4,257.9 460.0,257.3 461.6,256.0 463.2,256.9 464.8,258.0 466.4,257.3 468.0,257.9 469.6,258.6 471.2,255.7 472.8,260.6 474.4,262.1 476.0,261.2 477.6,262.0 479.2,259.8 480.8,262.2 482.4,262.3 484.0,263.6 485.6,266.6 487.2,265.6 488.8,267.6 490.4,266.7 492.0,270.1 493.6,271.8 495.2,272.3 496.8,273.8 498.4,278.5 500.0,276.3 501.6,278.2 503.2,280.2 504.8,284.4 506.4,287.4 508.0,287.1 509.6,287.7 511.2,290.1 512.8,293.9 514.4,293.6 516.0,298.5 517.6,300.6 519.2,301.2 520.8,304.1 522.4,306.5 524.0,309.8 525.6,309.1 527.2,314.1 528.8,314.7 530.4,316.7 532.0,320.2 533.6,322.4 535.2,324.0 536.8,325.9 538.4,329.3 540.0,334.6 541.6,337.9 543.2,339.1 544.8,342.4 546.4,343.2 548.0,346.4 549.6,349.6 551.2,350.8 552.8,353.8 554.4,357.8 556.0,360.2 557.6,362.2 559.2,366.7 560.8,368.8 562.4,373.1 564.0,374.9 565.6,377.4 567.2,380.8 568.8,383.4 570.4,385.8 572.0,389.0 573.6,393.1 575.2,395.9 576.8,399.5 578.4,399.3 580.0,403.6 581.6,406.5 583.2,410.0 584.8,412.3 586.4,415.1 588.0,419.3 589.6,421.6 591.2,423.1 592.8,428.5 594.4,431.0 596.0,432.3 597.6,436.5 599.2,437.8 600.8,442.4 602.4,443.9 604.0,446.1 605.6,449.3 607.2,451.7 608.8,455.4 610.4,458.1 612.0,460.6 613.6,462.8 615.2,462.5 616.8,468.7 618.4,469.4 620.0,474.0 621.6,477.5 623.2,479.2 624.8,481.1 626.4,483.9 628.0,486.4 629.6,488.5 631.2,490.9 632.8,493.0 634.4,497.3 636.0,498.6 637.6,501.8 639.2,503.1 640.8,505.7 642.4,507.7 644.0,510.5 645.6,513.1 647.2,514.8 648.8,516.2 650.4,518.2 652.0,522.4 653.6,522.8 655.2,524.9 656.8,528.4 658.4,530.1 660.0,531.6 661.6,532.8 663.2,536.9 664.8,537.3 666.4,539.2 668.0,540.5 669.6,541.4 671.2,543.2 672.8,546.3 674.4,548.1 676.0,549.3 677.6,550.2 679.2,551.7 680.8,554.2 682.4,554.9 684.0,558.3 685.6,560.0 687.2,562.7 688.8,562.8 690.4,563.2 692.0,564.4 693.6,564.0 695.2,567.4 696.8,569.1 698.4,571.3 700.0,572.3 701.6,573.6 703.2,574.6 704.8,576.1 706.4,577.9 708.0,577.4 709.6,579.0 711.2,579.5 712.8,582.6 714.4,583.5 716.0,584.2 717.6,584.0 719.2,585.9 720.8,586.7 722.4,587.9 724.0,588.6 725.6,590.0 727.2,590.4 728.8,592.1 730.4,592.6 732.0,593.1 733.6,594.1 735.2,594.7 736.8,596.3 738.4,596.4 740.0,597.5 741.6,597.9 743.2,597.9 744.8,600.1 746.4,599.6 748.0,601.3 749.6,601.9 751.2,601.3 752.8,602.3 754.4,603.2 756.0,603.6 757.6,604.0 759.2,605.7 760.8,605.7 762.4,606.6 764.0,606.7 765.6,607.6 767.2,607.5 768.8,608.4 770.4,609.2 772.0,609.4 773.6,609.6 775.2,609.7 776.8,610.8 778.4,611.3 780.0,611.4 781.6,611.5 783.2,612.6 784.8,614.0 786.4,612.9 788.0,613.5 789.6,613.9 791.2,612.7 792.8,614.4 794.4,614.3 796.0,615.7 797.6,615.1 799.2,615.2 800.8,615.7 802.4,616.2 804.0,616.1 805.6,616.6 807.2,616.2 808.8,617.0 810.4,617.7 812.0,618.5 813.6,618.1 815.2,618.1 816.8,618.7 818.4,618.9 820.0,619.4 821.6,619.3 823.2,618.9 824.8,619.2 826.4,619.4 828.0,619.6 829.6,619.7 831.2,619.4 832.8,618.9 834.4,619.7 836.0,619.2 837.6,620.3 839.2,620.4 840.8,619.8 842.4,621.0 844.0,621.2 845.6,620.9 847.2,621.7 848.8,621.9 850.4,620.7 852.0,621.8 853.6,621.6 855.2,621.7 856.8,622.0 858.4,621.3 860.0,621.5" fill="none" stroke="#808000" stroke-width="3.5" stroke-linejoin="round"/>
<path d="M340.0,548.6 341.6,546.1 343.2,544.0 344.8,540.2 346.4,537.8 348.0,536.4 349.6,533.0 351.2,530.5 352.8,525.7 354.4,523.6 356.0,520.7 357.6,518.1 359.2,514.4 360.8,512.5 362.4,508.3 364.0,505.1 365.6,501.7 367.2,498.9 368.8,494.4 370.4,492.3 372.0,488.1 373.6,484.3 375.2,480.5 376.8,477.3 378.4,474.0 380.0,470.2 381.6,465.8 383.2,462.5 384.8,457.9 386.4,455.0 388.0,449.9 389.6,443.9 391.2,443.3 392.8,438.0 394.4,432.7 396.0,429.7 397.6,424.9 399.2,423.9 400.8,418.2 402.4,411.9 404.0,410.0 405.6,404.9 407.2,403.3 408.8,396.0 410.4,390.7 412.0,389.1 413.6,384.6 415.2,380.4 416.8,374.5 418.4,373.3 420.0,370.7 421.6,362.8 423.2,362.3 424.8,356.4 426.4,355.8 428.0,349.9 429.6,345.4 431.2,343.1 432.8,338.8 434.4,333.9 436.0,331.8 437.6,326.9 439.2,321.9 440.8,323.0 442.4,316.9 444.0,313.3 445.6,311.2 447.2,305.8 448.8,303.0 450.4,301.1 452.0,298.2 453.6,296.1 455.2,294.6 456.8,290.0 458.4,288.7 460.0,286.3 461.6,281.9 463.2,281.3 464.8,277.7 466.4,278.0 468.0,275.3 469.6,272.9 471.2,269.5 472.8,269.6 474.4,266.9 476.0,267.3 477.6,264.9 479.2,262.8 480.8,263.8 482.4,262.5 484.0,259.9 485.6,261.2 487.2,258.7 488.8,258.0 490.4,258.1 492.0,256.5 493.6,256.6 495.2,256.7 496.8,258.7 498.4,258.6 500.0,256.4 501.6,258.7 503.2,256.6 504.8,257.2 506.4,257.8 508.0,257.1 509.6,259.7 511.2,257.0 512.8,255.2 514.4,258.3 516.0,256.2 517.6,256.3 519.2,253.0 520.8,257.9 522.4,257.7 524.0,257.8 525.6,258.5 527.2,260.0 528.8,258.6 530.4,260.7 532.0,259.7 533.6,261.4 535.2,264.4 536.8,265.0 538.4,264.4 540.0,268.1 541.6,269.1 543.2,270.1 544.8,273.4 546.4,274.3 548.0,274.9 549.6,277.6 551.2,283.2 552.8,281.4 554.4,285.8 556.0,288.6 557.6,291.0 559.2,291.2 560.8,294.7 562.4,297.8 564.0,301.2 565.6,302.0 567.2,304.1 568.8,309.3 570.4,312.2 572.0,314.1 573.6,315.7 575.2,319.8 576.8,322.3 578.4,326.0 580.0,326.5 581.6,331.0 583.2,333.6 584.8,335.5 586.4,340.0 588.0,342.8 589.6,345.3 591.2,349.3 592.8,350.3 594.4,354.9 596.0,358.5 597.6,361.4 599.2,365.3 600.8,365.9 602.4,368.6 604.0,373.6 605.6,376.9 607.2,381.8 608.8,383.3 610.4,384.8 612.0,389.6 613.6,390.9 615.2,393.3 616.8,400.7 618.4,401.3 620.0,404.8 621.6,407.7 623.2,412.0 624.8,413.4 626.4,417.3 628.0,418.0 629.6,420.6 631.2,426.4 632.8,429.4 634.4,431.3 636.0,433.9 637.6,436.8 639.2,438.8 640.8,443.8 642.4,445.8 644.0,448.4 645.6,451.1 647.2,454.5 648.8,456.7 650.4,459.6 652.0,460.5 653.6,464.8 655.2,469.0 656.8,469.0 658.4,472.0 660.0,475.5 661.6,478.1 663.2,480.3 664.8,480.8 666.4,485.2 668.0,486.1 669.6,488.9 671.2,492.5 672.8,494.1 674.4,497.4 676.0,501.8 677.6,502.0 679.2,504.2 680.8,505.0 682.4,507.4 684.0,509.2 685.6,511.8 687.2,513.5 688.8,515.9 690.4,518.4 692.0,519.8 693.6,521.4 695.2,523.5 696.8,526.9 698.4,528.5 700.0,531.2 701.6,533.1 703.2,533.8 704.8,536.4 706.4,536.5 708.0,541.3 709.6,542.1 711.2,542.7 712.8,543.7 714.4,546.5 716.0,546.4 717.6,548.9 719.2,551.6 720.8,552.7 722.4,553.8 724.0,556.3 725.6,556.3 727.2,558.8 728.8,559.6 730.4,560.8 732.0,563.1 733.6,563.4 735.2,566.8 736.8,566.3 738.4,569.5 740.0,568.5 741.6,571.0 743.2,570.9 744.8,572.0 746.4,574.2 748.0,575.7 749.6,575.5 751.2,578.3 752.8,578.1 754.4,579.7 756.0,581.0 757.6,582.1 759.2,581.5 760.8,584.8 762.4,585.0 764.0,585.3 765.6,585.9 767.2,586.4 768.8,587.5 770.4,589.6 772.0,589.8 773.6,590.2 775.2,591.4 776.8,593.5 778.4,593.1 780.0,593.7 781.6,595.6 783.2,595.8 784.8,596.3 786.4,596.6 788.0,596.7 789.6,597.6 791.2,598.7 792.8,599.5 794.4,600.5 796.0,601.2 797.6,601.6 799.2,602.2 800.8,602.0 802.4,601.9 804.0,603.4 805.6,603.7 807.2,604.4 808.8,605.1 810.4,605.1 812.0,605.6 813.6,606.7 815.2,607.3 816.8,607.3 818.4,608.4 820.0,608.4 821.6,608.4 823.2,609.4 824.8,610.8 826.4,609.8 828.0,611.2 829.6,611.6 831.2,612.1 832.8,611.2 834.4,613.0 836.0,612.4 837.6,612.5 839.2,612.8 840.8,613.6 842.4,613.6 844.0,613.8 845.6,614.8 847.2,614.0 848.8,614.1 850.4,615.3 852.0,615.6 853.6,616.0 855.2,615.2 856.8,616.5 858.4,616.4 860.0,617.3" fill="none" stroke="#000080" stroke-width="3.5" stroke-linejoin="round"/>
<path d="M340.0,572.7 341.6,572.2 343.2,570.2 344.8,567.5 346.4,566.4 348.0,566.1 349.6,563.0 351.2,561.0 352.8,560.4 354.4,558.5 356.0,556.6 357.6,553.1 359.2,551.6 360.8,550.4 362.4,546.9 364.0,544.6 365.6,543.7 367.2,542.1 368.8,537.4 370.4,533.8 372.0,532.4 373.6,530.3 375.2,528.6 376.8,526.8 378.4,523.6 380.0,520.4 381.6,518.6 383.2,514.8 384.8,513.0 386.4,509.6 388.0,510.0 389.6,505.4 391.2,500.9 392.8,497.8 394.4,495.4 396.0,491.2 397.6,489.1 399.2,486.0 400.8,484.5 402.4,480.0 404.0,476.5 405.6,472.7 407.2,469.6 408.8,467.5 410.4,464.1 412.0,462.1 413.6,456.9 415.2,455.4 416.8,451.1 418.4,447.4 420.0,441.8 421.6,439.1 423.2,437.8 424.8,435.0 426.4,430.2 428.0,427.3 429.6,422.4 431.2,418.9 432.8,415.0 434.4,413.3 436.0,409.0 437.6,404.7 439.2,401.0 440.8,398.4 442.4,394.6 444.0,389.6 445.6,389.1 447.2,383.7 448.8,379.9 450.4,378.1 452.0,374.0 453.6,369.1 455.2,366.4 456.8,360.9 458.4,357.9 460.0,352.5 461.6,353.4 463.2,346.1 464.8,345.9 466.4,340.7 468.0,337.2 469.6,334.9 471.2,332.3 472.8,329.5 474.4,327.8 476.0,322.9 477.6,320.5 479.2,315.6 480.8,314.4 482.4,310.7 484.0,307.1 485.6,304.7 487.2,302.1 488.8,299.7 490.4,297.4 492.0,293.6 493.6,290.8 495.2,290.4 496.8,284.8 498.4,284.0 500.0,284.7 501.6,276.9 503.2,277.5 504.8,277.4 506.4,272.4 508.0,276.3 509.6,267.6 511.2,271.5 512.8,270.1 514.4,267.8 516.0,264.9 517.6,264.4 519.2,261.5 520.8,262.7 522.4,259.1 524.0,259.4 525.6,260.3 527.2,256.7 528.8,257.2 530.4,257.4 532.0,254.9 533.6,258.1 535.2,256.8 536.8,254.1 538.4,256.1 540.0,255.1 541.6,255.3 543.2,256.3 544.8,255.2 546.4,257.5 548.0,255.2 549.6,257.5 551.2,256.1 552.8,257.4 554.4,255.5 556.0,255.5 557.6,254.6 559.2,257.0 560.8,257.5 562.4,259.1 564.0,258.0 565.6,257.0 567.2,257.1 568.8,258.9 570.4,259.5 572.0,262.8 573.6,263.6 575.2,262.7 576.8,264.6 578.4,269.2 580.0,269.6 581.6,270.9 583.2,274.8 584.8,274.9 586.4,277.2 588.0,279.3 589.6,279.6 591.2,285.8 592.8,285.5 594.4,288.9 596.0,291.3 597.6,295.9 599.2,297.5 600.8,300.4 602.4,300.9 604.0,305.8 605.6,306.8 607.2,312.0 608.8,315.0 610.4,317.5 612.0,323.1 613.6,324.1 615.2,327.2 616.8,329.7 618.4,332.3 620.0,336.8 621.6,340.1 623.2,340.1 624.8,346.2 626.4,348.6 628.0,352.3 629.6,354.8 631.2,355.9 632.8,359.1 634.4,365.9 636.0,367.1 637.6,368.3 639.2,373.6 640.8,375.8 642.4,377.2 644.0,379.8 645.6,383.8 647.2,389.1 648.8,391.9 650.4,394.7 652.0,398.5 653.6,401.9 655.2,401.9 656.8,407.0 658.4,409.5 660.0,412.0 661.6,415.8 663.2,419.3 664.8,422.2 666.4,423.8 668.0,427.9 669.6,433.6 671.2,433.1 672.8,435.3 674.4,440.3 676.0,443.5 677.6,446.2 679.2,447.3 680.8,452.4 682.4,453.3 684.0,455.7 685.6,458.9 687.2,462.2 688.8,465.7 690.4,468.3 692.0,470.2 693.6,473.8 695.2,475.5 696.8,478.9 698.4,479.1 700.0,481.5 701.6,486.3 703.2,486.6 704.8,490.1 706.4,492.7 708.0,494.7 709.6,497.1 711.2,501.2 712.8,499.7 714.4,505.2 716.0,508.8 717.6,508.9 719.2,511.0 720.8,513.9 722.4,517.0 724.0,516.3 725.6,519.6 727.2,521.4 728.8,524.1 730.4,525.7 732.0,528.1 733.6,529.1 735.2,531.4 736.8,532.7 738.4,534.5 740.0,536.8 741.6,538.6 743.2,539.5 744.8,543.7 746.4,543.9 748.0,544.5 749.6,548.3 751.2,548.4 752.8,551.1 754.4,552.2 756.0,554.0 757.6,555.5 759.2,556.4 760.8,558.4 762.4,561.5 764.0,559.5 765.6,562.8 767.2,564.5 768.8,564.7 770.4,565.8 772.0,569.9 773.6,569.2 775.2,572.4 776.8,572.4 778.4,573.3 780.0,574.8 781.6,576.1 783.2,577.7 784.8,578.3 786.4,579.2 788.0,580.3 789.6,582.3 791.2,582.9 792.8,582.6 794.4,583.9 796.0,585.6 797.6,585.9 799.2,587.1 800.8,587.6 802.4,589.0 804.0,590.4 805.6,591.7 807.2,591.8 808.8,594.1 810.4,593.5 812.0,596.5 813.6,595.8 815.2,596.2 816.8,596.3 818.4,595.5 820.0,598.0 821.6,598.9 823.2,600.8 824.8,599.3 826.4,602.1 828.0,601.4 829.6,602.6 831.2,601.1 832.8,603.5 834.4,603.7 836.0,605.0 837.6,605.2 839.2,604.9 840.8,606.8 842.4,607.1 844.0,607.6 845.6,608.3 847.2,608.9 848.8,608.7 850.4,608.3 852.0,608.7 853.6,610.8 855.2,610.9 856.8,610.9 858.4,611.0 860.0,611.7" fill="none" stroke="#800080" stroke-width="3.5" stroke-linejoin="round"/>
<path d="M340.0,583.8 341.6,582.3 343.2,580.9 344.8,581.8 346.4,579.1 348.0,577.2 349.6,575.3 351.2,574.4 352.8,574.2 354.4,572.8 356.0,570.6 357.6,569.4 359.2,567.6 360.8,565.5 362.4,565.9 364.0,563.6 365.6,563.7 367.2,559.4 368.8,558.3 370.4,557.4 372.0,554.8 373.6,552.1 375.2,550.7 376.8,549.7 378.4,548.1 380.0,545.9 381.6,544.9 383.2,543.0 384.8,540.4 386.4,538.2 388.0,535.9 389.6,534.6 391.2,532.8 392.8,529.9 394.4,528.1 396.0,525.2 397.6,522.0 399.2,520.2 400.8,519.5 402.4,516.9 404.0,515.7 405.6,511.9 407.2,510.3 408.8,508.3 410.4,505.5 412.0,501.5 413.6,499.4 415.2,497.2 416.8,493.6 418.4,492.4 420.0,490.4 421.6,486.2 423.2,486.0 424.8,481.1 426.4,478.5 428.0,475.7 429.6,472.5 431.2,470.9 432.8,467.7 434.4,466.6 436.0,462.6 437.6,459.7 439.2,456.0 440.8,451.9 442.4,450.4 444.0,446.6 445.6,445.6 447.2,441.6 448.8,440.5 450.4,436.5 452.0,433.6 453.6,429.9 455.2,426.9 456.8,424.4 458.4,421.6 460.0,416.8 461.6,415.1 463.2,414.5 464.8,408.3 466.4,405.1 468.0,401.5 469.6,397.5 471.2,397.6 472.8,393.2 474.4,390.4 476.0,389.2 477.6,386.9 479.2,379.8 480.8,379.1 482.4,375.6 484.0,372.3 485.6,369.4 487.2,365.8 488.8,364.8 490.4,360.6 492.0,357.4 493.6,355.6 495.2,352.2 496.8,348.8 498.4,345.7 500.0,344.7 501.6,340.3 503.2,336.8 504.8,333.0 506.4,330.9 508.0,327.3 509.6,326.1 511.2,323.6 512.8,318.0 514.4,318.1 516.0,316.4 517.6,313.2 519.2,309.3 520.8,309.7 522.4,304.8 524.0,301.7 525.6,299.6 527.2,298.7 528.8,297.8 530.4,295.8 532.0,292.4 533.6,288.5 535.2,287.1 536.8,284.8 538.4,283.8 540.0,279.8 541.6,280.5 543.2,279.4 544.8,276.6 546.4,275.7 548.0,272.2 549.6,269.9 551.2,269.5 552.8,270.5 554.4,268.9 556.0,265.5 557.6,266.5 559.2,263.2 560.8,264.6 562.4,262.1 564.0,259.7 565.6,260.5 567.2,257.4 568.8,256.3 570.4,254.8 572.0,256.5 573.6,255.4 575.2,254.7 576.8,253.8 578.4,255.8 580.0,252.9 581.6,252.1 583.2,254.5 584.8,254.6 586.4,252.9 588.0,250.0 589.6,251.5 591.2,254.0 592.8,254.5 594.4,258.2 596.0,255.9 597.6,260.6 599.2,260.7 600.8,265.4 602.4,265.6 604.0,269.3 605.6,269.3 607.2,270.5 608.8,273.3 610.4,276.3 612.0,278.2 613.6,283.7 615.2,286.3 616.8,287.4 618.4,288.2 620.0,292.0 621.6,293.9 623.2,299.3 624.8,300.4 626.4,303.3 628.0,304.8 629.6,305.4 631.2,309.7 632.8,311.9 634.4,316.6 636.0,318.9 637.6,320.5 639.2,323.8 640.8,329.0 642.4,328.5 644.0,331.3 645.6,334.9 647.2,337.1 648.8,340.2 650.4,344.1 652.0,348.4 653.6,346.8 655.2,351.7 656.8,354.5 658.4,357.1 660.0,359.7 661.6,362.3 663.2,366.7 664.8,367.6 666.4,370.8 668.0,373.7 669.6,376.5 671.2,378.9 672.8,383.0 674.4,384.5 676.0,387.4 677.6,389.9 679.2,391.4 680.8,394.3 682.4,396.8 684.0,400.9 685.6,402.5 687.2,404.8 688.8,408.9 690.4,411.9 692.0,411.9 693.6,418.5 695.2,419.2 696.8,421.7 698.4,425.6 700.0,427.0 701.6,428.9 703.2,434.5 704.8,433.5 706.4,437.1 708.0,440.7 709.6,441.2 711.2,444.7 712.8,447.8 714.4,452.4 716.0,451.4 717.6,454.8 719.2,458.0 720.8,459.9 722.4,461.0 724.0,465.1 725.6,467.2 727.2,470.0 728.8,473.1 730.4,475.3 732.0,477.1 733.6,479.3 735.2,480.3 736.8,483.6 738.4,486.3 740.0,487.9 741.6,490.7 743.2,492.1 744.8,496.7 746.4,499.5 748.0,499.3 749.6,502.3 751.2,503.9 752.8,507.5 754.4,508.9 756.0,510.7 757.6,512.5 759.2,515.0 760.8,516.1 762.4,519.7 764.0,520.5 765.6,523.7 767.2,525.4 768.8,528.2 770.4,529.2 772.0,532.1 773.6,532.4 775.2,535.7 776.8,536.9 778.4,539.1 780.0,540.9 781.6,543.5 783.2,542.8 784.8,546.6 786.4,546.9 788.0,551.0 789.6,550.1 791.2,552.6 792.8,553.8 794.4,558.2 796.0,557.5 797.6,560.3 799.2,561.4 800.8,562.0 802.4,564.7 804.0,567.1 805.6,567.9 807.2,570.3 808.8,570.8 810.4,572.5 812.0,573.7 813.6,575.6 815.2,578.2 816.8,578.4 818.4,579.6 820.0,580.4 821.6,581.6 823.2,584.5 824.8,583.8 826.4,585.2 828.0,587.0 829.6,587.9 831.2,590.8 832.8,588.9 834.4,591.9 836.0,593.2 837.6,593.0 839.2,594.4 840.8,596.1 842.4,597.9 844.0,597.1 845.6,597.6 847.2,600.2 848.8,601.5 850.4,601.1 852.0,600.8 853.6,604.0 855.2,603.7 856.8,605.3 858.4,605.4 860.0,605.9" fill="none" stroke="#800000" stroke-width="3.5" stroke-linejoin="round"/>
<path d="M340.0,588.4 341.6,588.8 343.2,587.9 344.8,584.4 346.4,584.3 348.0,585.3 349.6,582.7 351.2,580.9 352.8,580.9 354.4,579.7 356.0,578.7 357.6,577.3 359.2,576.3 360.8,575.0 362.4,574.4 364.0,572.3 365.6,571.5 367.2,570.4 368.8,570.3 370.4,568.2 372.0,566.5 373.6,565.7 375.2,564.3 376.8,563.4 378.4,561.6 380.0,561.2 381.6,559.4 383.2,556.7 384.8,554.9 386.4,554.5 388.0,552.6 389.6,550.5 391.2,547.7 392.8,545.8 394.4,546.0 396.0,544.7 397.6,543.0 399.2,539.4 400.8,539.7 402.4,536.5 404.0,535.5 405.6,533.7 407.2,530.7 408.8,529.0 410.4,525.8 412.0,524.9 413.6,522.1 415.2,522.1 416.8,519.7 418.4,518.5 420.0,515.9 421.6,512.8 423.2,511.6 424.8,508.8 426.4,507.5 428.0,505.0 429.6,501.6 431.2,500.2 432.8,498.0 434.4,495.3 436.0,494.2 437.6,492.6 439.2,488.2 440.8,485.8 442.4,481.4 444.0,481.1 445.6,478.3 447.2,474.0 448.8,474.0 450.4,471.8 452.0,467.8 453.6,465.6 455.2,462.4 456.8,461.5 458.4,456.5 460.0,455.1 461.6,454.8 463.2,450.0 464.8,447.8 466.4,444.3 468.0,440.5 469.6,438.9 471.2,436.6 472.8,432.2 474.4,430.9 476.0,429.0 477.6,426.0 479.2,420.1 480.8,417.9 482.4,414.3 484.0,414.5 485.6,411.0 487.2,408.2 488.8,403.5 490.4,400.2 492.0,398.7 493.6,395.8 495.2,391.7 496.8,389.9 498.4,387.6 500.0,384.1 501.6,379.6 503.2,375.4 504.8,374.7 506.4,372.2 508.0,368.8 509.6,365.6 511.2,362.4 512.8,361.2 514.4,357.3 516.0,354.6 517.6,350.4 519.2,347.9 520.8,346.0 522.4,341.7 524.0,338.5 525.6,336.9 527.2,336.0 528.8,332.0 530.4,330.8 532.0,326.0 533.6,323.1 535.2,319.0 536.8,317.4 538.4,317.4 540.0,313.4 541.6,311.3 543.2,308.8 544.8,305.3 546.4,302.6 548.0,300.6 549.6,299.0 551.2,296.3 552.8,294.1 554.4,291.4 556.0,287.9 557.6,286.5 559.2,283.4 560.8,284.0 562.4,277.8 564.0,278.4 565.6,280.0 567.2,274.5 568.8,271.6 570.4,271.4 572.0,271.5 573.6,268.0 575.2,267.5 576.8,265.4 578.4,263.3 580.0,266.8 581.6,261.4 583.2,259.4 584.8,258.4 586.4,258.6 588.0,257.8 589.6,257.5 591.2,255.9 592.8,253.1 594.4,255.3 596.0,253.8 597.6,253.5 599.2,251.8 600.8,253.0 602.4,252.8 604.0,253.8 605.6,251.8 607.2,253.9 608.8,254.2 610.4,253.3 612.0,255.2 613.6,256.1 615.2,260.0 616.8,256.8 618.4,261.5 620.0,261.4 621.6,264.9 623.2,268.4 624.8,268.3 626.4,271.4 628.0,272.0 629.6,277.9 631.2,278.6 632.8,281.0 634.4,279.9 636.0,282.4 637.6,287.5 639.2,288.1 640.8,290.3 642.4,293.4 644.0,293.6 645.6,298.7 647.2,300.0 648.8,303.0 650.4,304.0 652.0,307.9 653.6,308.8 655.2,313.4 656.8,316.1 658.4,318.3 660.0,320.3 661.6,323.0 663.2,321.2 664.8,328.3 666.4,329.4 668.0,332.4 669.6,334.5 671.2,335.7 672.8,339.3 674.4,343.4 676.0,346.9 677.6,347.0 679.2,349.2 680.8,354.7 682.4,354.5 684.0,360.7 685.6,360.8 687.2,362.3 688.8,367.2 690.4,370.7 692.0,369.5 693.6,375.8 695.2,376.2 696.8,380.9 698.4,381.3 700.0,382.5 701.6,387.6 703.2,390.8 704.8,394.8 706.4,397.0 708.0,398.4 709.6,400.0 711.2,402.3 712.8,405.2 714.4,407.2 716.0,410.5 717.6,410.5 719.2,416.3 720.8,418.7 722.4,424.2 724.0,424.8 725.6,426.0 727.2,429.8 728.8,430.4 730.4,433.8 732.0,435.0 733.6,441.2 735.2,442.9 736.8,443.6 738.4,447.3 740.0,451.0 741.6,453.1 743.2,455.6 744.8,456.8 746.4,459.6 748.0,462.9 749.6,466.3 751.2,467.0 752.8,469.3 754.4,474.1 756.0,474.5 757.6,479.1 759.2,480.7 760.8,483.8 762.4,487.1 764.0,488.5 765.6,491.1 767.2,491.8 768.8,494.5 770.4,498.2 772.0,501.4 773.6,503.7 775.2,506.9 776.8,507.4 778.4,509.6 780.0,512.7 781.6,514.0 783.2,516.2 784.8,517.6 786.4,521.7 788.0,522.1 789.6,525.7 791.2,526.2 792.8,530.6 794.4,530.9 796.0,534.7 797.6,534.6 799.2,537.7 800.8,541.2 802.4,541.6 804.0,544.3 805.6,545.9 807.2,546.3 808.8,550.5 810.4,552.5 812.0,553.1 813.6,556.4 815.2,557.1 816.8,558.8 818.4,561.4 820.0,562.6 821.6,566.7 823.2,565.4 824.8,568.9 826.4,570.8 828.0,570.1 829.6,571.9 831.2,575.2 832.8,576.0 834.4,578.2 836.0,580.2 837.6,580.6 839.2,581.5 840.8,581.7 842.4,585.2 844.0,585.7 845.6,588.0 847.2,589.2 848.8,589.3 850.4,592.7 852.0,593.5 853.6,594.5 855.2,594.2 856.8,595.9 858.4,596.9 860.0,598.0" fill="none" stroke="#008000" stroke-width="3.5" stroke-linejoin="round"/>
<path d="M340.0,591.7 341.6,592.0 343.2,591.1 344.8,590.5 346.4,589.1 348.0,589.5 349.6,587.9 351.2,585.0 352.8,585.7 354.4,585.2 356.0,585.1 357.6,583.3 359.2,582.4 360.8,581.2 362.4,581.2 364.0,579.4 365.6,578.3 367.2,577.2 368.8,577.1 370.4,575.3 372.0,573.3 373.6,574.0 375.2,571.9 376.8,571.6 378.4,570.5 380.0,570.0 381.6,568.7 383.2,566.2 384.8,565.3 386.4,563.2 388.0,564.3 389.6,562.0 391.2,561.5 392.8,558.8 394.4,556.0 396.0,557.6 397.6,555.0 399.2,553.7 400.8,552.2 402.4,551.2 404.0,549.7 405.6,546.4 407.2,547.1 408.8,544.2 410.4,542.7 412.0,543.0 413.6,540.7 415.2,537.9 416.8,534.9 418.4,535.0 420.0,533.7 421.6,531.4 423.2,528.6 424.8,527.2 426.4,525.0 428.0,524.5 429.6,523.2 431.2,521.5 432.8,518.0 434.4,516.9 436.0,515.3 437.6,512.3 439.2,510.6 440.8,510.8 442.4,506.9 444.0,505.5 445.6,502.1 447.2,500.4 448.8,496.6 450.4,496.1 452.0,495.1 453.6,493.7 455.2,490.6 456.8,487.8 458.4,484.9 460.0,481.9 461.6,480.0 463.2,478.5 464.8,474.6 466.4,474.0 468.0,469.6 469.6,466.3 471.2,464.6 472.8,461.4 474.4,459.2 476.0,459.3 477.6,455.3 479.2,453.2 480.8,451.6 482.4,449.1 484.0,444.6 485.6,443.9 487.2,440.2 488.8,437.1 490.4,434.8 492.0,430.0 493.6,428.0 495.2,426.0 496.8,424.0 498.4,420.1 500.0,417.6 501.6,416.0 503.2,413.7 504.8,410.1 506.4,407.8 508.0,403.0 509.6,400.2 511.2,398.0 512.8,394.4 514.4,391.3 516.0,390.9 517.6,385.8 519.2,382.0 520.8,380.8 522.4,379.4 524.0,374.4 525.6,372.8 527.2,367.9 528.8,364.9 530.4,361.7 532.0,359.4 533.6,358.9 535.2,352.3 536.8,352.9 538.4,346.7 540.0,344.7 541.6,343.2 543.2,340.1 544.8,336.8 546.4,331.5 548.0,331.2 549.6,326.6 551.2,328.4 552.8,322.1 554.4,319.8 556.0,315.4 557.6,313.5 559.2,309.8 560.8,310.1 562.4,305.9 564.0,304.4 565.6,300.2 567.2,297.9 568.8,297.8 570.4,292.4 572.0,288.9 573.6,289.5 575.2,285.1 576.8,283.8 578.4,283.5 580.0,279.0 581.6,279.2 583.2,275.1 584.8,276.1 586.4,274.0 588.0,269.8 589.6,268.4 591.2,265.9 592.8,265.8 594.4,265.6 596.0,260.7 597.6,262.7 599.2,258.5 600.8,258.1 602.4,255.9 604.0,260.5 605.6,257.1 607.2,257.1 608.8,255.8 610.4,258.2 612.0,253.8 613.6,256.7 615.2,259.7 616.8,256.2 618.4,256.7 620.0,257.6 621.6,255.6 623.2,256.7 624.8,258.0 626.4,257.0 628.0,257.2 629.6,256.2 631.2,257.1 632.8,256.8 634.4,259.4 636.0,259.4 637.6,259.3 639.2,257.6 640.8,263.4 642.4,264.9 644.0,264.2 645.6,264.4 647.2,267.3 648.8,271.8 650.4,270.9 652.0,273.6 653.6,276.4 655.2,279.7 656.8,280.0 658.4,281.8 660.0,283.3 661.6,288.2 663.2,289.5 664.8,290.1 666.4,290.5 668.0,293.4 669.6,297.4 671.2,297.8 672.8,302.2 674.4,303.7 676.0,305.8 677.6,308.5 679.2,310.6 680.8,311.1 682.4,314.1 684.0,319.9 685.6,317.7 687.2,320.9 688.8,325.3 690.4,326.1 692.0,327.6 693.6,329.4 695.2,334.2 696.8,337.2 698.4,340.1 700.0,340.9 701.6,344.6 703.2,344.5 704.8,348.5 706.4,350.0 708.0,353.5 709.6,356.8 711.2,359.7 712.8,359.8 714.4,365.1 716.0,365.6 717.6,367.5 719.2,371.1 720.8,372.2 722.4,376.6 724.0,379.6 725.6,381.7 727.2,385.2 728.8,386.9 730.4,390.0 732.0,391.0 733.6,395.5 735.2,397.1 736.8,400.3 738.4,403.5 740.0,406.6 741.6,407.3 743.2,410.2 744.8,414.4 746.4,418.1 748.0,420.7 749.6,424.2 751.2,427.4 752.8,429.4 754.4,431.6 756.0,433.4 757.6,436.3 759.2,439.7 760.8,443.4 762.4,446.2 764.0,448.8 765.6,451.5 767.2,455.2 768.8,457.7 770.4,460.6 772.0,463.5 773.6,465.5 775.2,467.9 776.8,472.3 778.4,475.1 780.0,477.3 781.6,480.0 783.2,485.6 784.8,485.4 786.4,488.7 788.0,492.1 789.6,493.5 791.2,497.5 792.8,502.0 794.4,503.9 796.0,506.4 797.6,509.1 799.2,511.4 800.8,514.9 802.4,516.5 804.0,519.0 805.6,522.1 807.2,525.5 808.8,527.6 810.4,530.5 812.0,530.7 813.6,536.1 815.2,539.6 816.8,541.2 818.4,542.2 820.0,544.2 821.6,547.5 823.2,548.8 824.8,552.6 826.4,553.8 828.0,557.3 829.6,559.9 831.2,559.3 832.8,563.3 834.4,564.6 836.0,566.2 837.6,568.8 839.2,571.1 840.8,574.1 842.4,574.0 844.0,577.8 845.6,580.4 847.2,581.1 848.8,582.8 850.4,584.1 852.0,584.9 853.6,587.8 855.2,589.2 856.8,591.0 858.4,593.8 860.0,593.9" fill="none" stroke="#008080" stroke-width="3.5" stroke-linejoin="round"/>
<path d="M467.9,489.0 469.5,488.0 471.1,482.6 472.7,480.5 474.3,479.1 475.9,476.5 477.5,475.6 479.1,472.2 480.7,472.1 482.3,469.5 483.9,466.2 485.5,462.5 487.1,461.2 488.7,458.9 490.3,454.3 491.9,453.4 493.5,451.3 495.1,448.2 496.7,447.3 498.3,444.3 499.9,439.3 501.5,437.9 503.1,434.1 504.7,433.2 506.3,428.8 507.9,428.3 509.5,425.0 511.1,423.1 512.7,419.0 514.3,414.7 515.9,416.0 517.5,410.9 519.1,410.1 520.7,406.2 522.3,403.8 523.9,402.5 525.5,397.9 527.1,396.5 528.7,390.0 530.3,390.3 531.9,386.1 533.5,383.5 535.1,380.9 536.7,378.6 538.3,377.6 539.9,370.2 541.5,369.9 543.1,366.2 544.7,365.9 546.3,361.1 547.9,359.5 549.5,355.7 551.1,354.4 552.7,352.1 554.3,347.5 555.9,345.5 557.5,340.8 559.1,340.5 560.7,338.6 562.3,334.0 563.9,333.7 565.5,326.7 567.1,324.4 568.7,322.5 570.3,321.3 571.9,319.5 573.5,316.9 575.1,314.4 576.7,313.1 578.3,309.0 579.9,305.5 581.5,303.2 583.1,305.7 584.7,297.1 586.3,297.9 587.9,298.1 589.5,294.5 591.1,290.5 592.7,289.6 594.3,288.9 595.9,287.4 597.5,282.4 599.1,282.9 600.7,280.3 602.3,279.8 603.9,278.5 605.5,274.2 607.1,271.0 608.7,272.1 610.3,272.7 611.9,269.6 613.5,267.5 615.1,269.5 616.7,263.1 618.3,264.8 619.9,261.5 621.5,261.5 623.1,260.6 624.7,261.9 626.3,257.4 627.9,257.4 629.5,255.2 631.1,257.9 632.7,256.2 634.3,257.3 635.9,255.1 637.5,256.2 639.1,258.5 640.7,256.8 642.3,258.3 643.9,258.5 645.5,257.5 647.1,256.1 648.7,260.4 650.3,259.7 651.9,261.5 653.5,257.7 655.1,258.9 656.7,258.9 658.3,261.6 659.9,265.3 661.5,265.5 663.1,265.6 664.7,266.8 666.3,268.8 667.9,268.3 669.5,270.5 671.1,271.3 672.7,269.2 674.3,273.1 675.9,277.0 677.5,275.8 679.1,277.6 680.7,278.4 682.3,280.1 683.9,284.0 685.5,283.5 687.1,284.1 688.7,282.7 690.3,288.1 691.9,287.9 693.5,289.9 695.1,295.5 696.7,297.2 698.3,295.4 699.9,301.3 701.5,302.7 703.1,302.9 704.7,307.1 706.3,305.8 707.9,308.6 709.5,310.4 711.1,313.0 712.7,318.0 714.3,317.1 715.9,319.6 717.5,322.2 719.1,326.1 720.7,327.7 722.3,331.7 723.9,331.9 725.5,333.5 727.1,337.0 728.7,340.2 730.3,341.3 731.9,345.5 733.5,350.1 735.1,349.3 736.7,352.7 738.3,357.0 739.9,356.9 741.5,359.2 743.1,361.5 744.7,366.1 746.3,368.9 747.9,370.6 749.5,373.5 751.1,377.8 752.7,379.9 754.3,379.6 755.9,384.1 757.5,386.9 759.1,390.4 760.7,391.9 762.3,394.1 763.9,397.0 765.5,398.0 767.1,403.0 768.7,404.9 770.3,409.0 771.9,409.8 773.5,413.3 775.1,415.3 776.7,417.9 778.3,422.8 779.9,424.0 781.5,427.8 783.1,428.6 784.7,432.8 786.3,433.3 787.9,437.4 789.5,440.0 791.1,444.0 792.7,446.1 794.3,448.3 795.9,452.1 797.5,454.0 799.1,457.0 800.7,459.8 802.3,461.4 803.9,463.7 805.5,467.0 807.1,468.7 808.7,472.1 810.3,475.4 811.9,477.6 813.5,478.7 815.1,480.1 816.7,483.9 818.3,486.2 819.9,490.0 821.5,490.7 823.1,493.3 824.7,496.6 826.3,497.6 827.9,500.3 829.5,504.5 831.1,506.5 832.7,507.9 834.3,509.7 835.9,510.6 837.5,514.4 839.1,516.0 840.7,518.3 842.3,519.6 843.9,522.2 845.5,524.1 847.1,526.6 848.7,529.7 850.3,530.7 851.9,530.7 853.5,533.3 855.1,534.6 856.7,537.3 858.3,540.4 859.9,542.1" fill="none" stroke="#0000a0" stroke-width="3.5" stroke-linejoin="round"/>
<path d="M467.9,489.6 469.5,489.3 471.1,484.9 472.7,481.2 474.3,479.0 475.9,477.9 477.5,480.7 479.1,472.3 480.7,475.7 482.3,473.6 483.9,467.9 485.5,465.8 487.1,462.1 488.7,461.1 490.3,460.2 491.9,456.3 493.5,456.2 495.1,454.1 496.7,449.7 498.3,447.2 499.9,443.8 501.5,442.2 503.1,436.2 504.7,437.3 506.3,434.3 507.9,429.1 509.5,433.8 511.1,423.7 512.7,421.3 514.3,421.5 515.9,413.5 517.5,413.7 519.1,409.2 520.7,407.9 522.3,407.4 523.9,405.9 525.5,405.2 527.1,401.8 528.7,400.1 530.3,395.9 531.9,390.6 533.5,392.0 535.1,385.2 536.7,382.2 538.3,385.1 539.9,380.5 541.5,376.4 543.1,375.1 544.7,372.8 546.3,364.2 547.9,364.9 549.5,359.4 551.1,360.3 552.7,355.5 554.3,358.4 555.9,353.5 557.5,347.3 559.1,346.9 560.7,341.1 562.3,342.0 563.9,340.8 565.5,337.5 567.1,329.0 568.7,330.9 570.3,330.8 571.9,327.8 573.5,327.7 575.1,318.5 576.7,321.2 578.3,315.6 579.9,315.6 581.5,313.9 583.1,312.5 584.7,306.6 586.3,306.6 587.9,300.6 589.5,297.7 591.1,301.2 592.7,297.4 594.3,290.9 595.9,291.1 597.5,291.6 599.1,294.1 600.7,290.8 602.3,288.2 603.9,278.9 605.5,282.0 607.1,282.0 608.7,280.1 610.3,278.5 611.9,275.0 613.5,279.4 615.1,277.1 616.7,271.0 618.3,267.0 619.9,274.7 621.5,265.7 623.1,269.7 624.7,270.7 626.3,261.1 627.9,263.8 629.5,260.9 631.1,262.6 632.7,261.2 634.3,265.3 635.9,260.6 637.5,258.2 639.1,261.1 640.7,256.5 642.3,255.9 643.9,263.4 645.5,254.1 647.1,255.1 648.7,256.8 650.3,253.7 651.9,250.8 653.5,260.6 655.1,255.4 656.7,256.6 658.3,257.5 659.9,256.2 661.5,256.5 663.1,260.8 664.7,268.1 666.3,263.8 667.9,264.5 669.5,258.5 671.1,263.7 672.7,261.1 674.3,267.7 675.9,265.6 677.5,267.3 679.1,267.9 680.7,267.4 682.3,265.6 683.9,272.8 685.5,268.1 687.1,269.8 688.7,273.5 690.3,273.5 691.9,277.5 693.5,280.9 695.1,279.9 696.7,281.1 698.3,281.8 699.9,285.6 701.5,279.1 703.1,286.9 704.7,284.6 706.3,285.1 707.9,290.2 709.5,290.6 711.1,294.9 712.7,297.9 714.3,289.7 715.9,297.8 717.5,305.2 719.1,303.8 720.7,307.1 722.3,305.0 723.9,302.4 725.5,305.1 727.1,312.1 728.7,314.6 730.3,311.7 731.9,315.0 733.5,318.4 735.1,314.7 736.7,320.6 738.3,328.1 739.9,331.7 741.5,327.4 743.1,334.9 744.7,330.5 746.3,331.9 747.9,330.1 749.5,341.1 751.1,339.7 752.7,349.4 754.3,346.2 755.9,348.1 757.5,345.1 759.1,356.4 760.7,353.8 762.3,356.7 763.9,353.7 765.5,364.6 767.1,367.2 768.7,365.5 770.3,369.9 771.9,373.3 773.5,377.4 775.1,377.8 776.7,384.6 778.3,382.2 779.9,383.9 781.5,387.0 783.1,384.4 784.7,391.6 786.3,399.0 787.9,399.9 789.5,400.0 791.1,405.8 792.7,402.7 794.3,409.9 795.9,414.8 797.5,418.1 799.1,417.4 800.7,424.4 802.3,429.7 803.9,427.0 805.5,432.8 807.1,430.3 808.7,432.3 810.3,441.4 811.9,443.0 813.5,446.4 815.1,447.6 816.7,451.2 818.3,456.8 819.9,461.9 821.5,460.4 823.1,460.2 824.7,469.8 826.3,471.3 827.9,474.4 829.5,476.3 831.1,484.0 832.7,482.0 834.3,485.9 835.9,483.7 837.5,489.4 839.1,492.1 840.7,496.4 842.3,500.1 843.9,500.7 845.5,508.7 847.1,505.7 848.7,509.8 850.3,514.0 851.9,513.8 853.5,520.2 855.1,523.0 856.7,523.9 858.3,530.9 859.9,529.9" fill="none" stroke="#ff8000" stroke-width="3.7" stroke-linejoin="round"/>
<path d="M467.9,497.9 469.5,491.2 471.1,486.4 472.7,488.2 474.3,487.2 475.9,484.6 477.5,487.1 479.1,472.7 480.7,475.3 482.3,470.4 483.9,480.5 485.5,470.8 487.1,468.7 488.7,464.1 490.3,469.7 491.9,462.1 493.5,462.3 495.1,450.9 496.7,461.4 498.3,455.9 499.9,454.2 501.5,454.6 503.1,446.3 504.7,443.9 506.3,445.1 507.9,441.4 509.5,436.2 511.1,434.9 512.7,430.0 514.3,432.7 515.9,431.1 517.5,424.6 519.1,430.1 520.7,412.8 522.3,415.9 523.9,421.7 525.5,409.9 527.1,402.1 528.7,412.7 530.3,406.3 531.9,396.0 533.5,402.1 535.1,391.5 536.7,387.5 538.3,390.2 539.9,386.0 541.5,380.6 543.1,381.3 544.7,375.8 546.3,378.0 547.9,375.0 549.5,375.9 551.1,367.8 552.7,361.1 554.3,358.5 555.9,360.9 557.5,366.7 559.1,360.9 560.7,351.3 562.3,356.2 563.9,343.7 565.5,351.5 567.1,342.3 568.7,345.3 570.3,342.1 571.9,335.3 573.5,335.8 575.1,326.5 576.7,328.9 578.3,332.2 579.9,344.5 581.5,325.6 583.1,320.2 584.7,312.4 586.3,320.4 587.9,304.6 589.5,306.6 591.1,310.2 592.7,300.2 594.3,311.7 595.9,307.4 597.5,296.9 599.1,294.9 600.7,289.0 602.3,286.6 603.9,294.0 605.5,292.9 607.1,289.7 608.7,287.4 610.3,281.4 611.9,284.3 613.5,273.2 615.1,279.1 616.7,285.0 618.3,282.7 619.9,271.9 621.5,271.1 623.1,278.5 624.7,279.3 626.3,260.9 627.9,265.2 629.5,267.4 631.1,271.4 632.7,259.6 634.3,266.3 635.9,260.4 637.5,273.5 639.1,262.5 640.7,258.8 642.3,257.1 643.9,263.7 645.5,261.2 647.1,251.5 648.7,258.0 650.3,249.6 651.9,252.5 653.5,249.7 655.1,249.5 656.7,252.9 658.3,251.4 659.9,259.4 661.5,261.0 663.1,255.7 664.7,251.2 666.3,261.5 667.9,246.9 669.5,247.7 671.1,261.9 672.7,261.9 674.3,264.0 675.9,258.2 677.5,253.2 679.1,257.6 680.7,263.8 682.3,257.4 683.9,258.4 685.5,255.5 687.1,257.4 688.7,268.7 690.3,267.5 691.9,259.9 693.5,261.3 695.1,264.9 696.7,271.7 698.3,263.9 699.9,270.2 701.5,261.1 703.1,266.9 704.7,276.8 706.3,280.5 707.9,271.3 709.5,274.7 711.1,284.2 712.7,279.6 714.3,280.3 715.9,287.3 717.5,287.3 719.1,293.6 720.7,293.7 722.3,288.5 723.9,292.6 725.5,294.8 727.1,290.1 728.7,294.0 730.3,305.8 731.9,295.0 733.5,310.0 735.1,308.5 736.7,308.6 738.3,314.1 739.9,316.0 741.5,321.9 743.1,316.3 744.7,319.5 746.3,321.8 747.9,334.6 749.5,332.4 751.1,325.8 752.7,331.2 754.3,332.0 755.9,338.0 757.5,341.6 759.1,354.2 760.7,337.2 762.3,353.5 763.9,353.4 765.5,350.7 767.1,356.1 768.7,357.3 770.3,362.6 771.9,369.9 773.5,361.0 775.1,377.0 776.7,372.1 778.3,383.7 779.9,381.6 781.5,388.3 783.1,388.2 784.7,393.5 786.3,391.8 787.9,390.8 789.5,400.5 791.1,403.6 792.7,412.8 794.3,397.7 795.9,408.7 797.5,417.2 799.1,410.1 800.7,417.6 802.3,430.7 803.9,430.7 805.5,423.9 807.1,436.7 808.7,438.6 810.3,439.9 811.9,441.2 813.5,443.6 815.1,442.0 816.7,446.4 818.3,454.5 819.9,455.0 821.5,464.8 823.1,458.9 824.7,453.5 826.3,464.7 827.9,470.0 829.5,473.2 831.1,474.8 832.7,474.1 834.3,485.9 835.9,480.3 837.5,488.4 839.1,487.3 840.7,486.5 842.3,499.0 843.9,487.0 845.5,495.8 847.1,503.2 848.7,502.9 850.3,509.5 851.9,508.9 853.5,510.1 855.1,521.9 856.7,515.8 858.3,518.5 859.9,517.6" fill="none" stroke="#8000ff" stroke-width="4.5" stroke-linejoin="round"/></g>
<rect x="187.5" y="216" width="672.5" height="408" fill="none" stroke="#1a1a1a" stroke-width="2.2"/>
<path d="M187,624 v-10 M187,216 v10 M247.9,624 v-5 M247.9,216 v5 M308.8,624 v-10 M308.8,216 v10 M369.7,624 v-5 M369.7,216 v5 M430.6,624 v-10 M430.6,216 v10 M491.5,624 v-5 M491.5,216 v5 M552.4,624 v-10 M552.4,216 v10 M613.3,624 v-5 M613.3,216 v5 M674.2,624 v-10 M674.2,216 v10 M735.1,624 v-5 M735.1,216 v5 M796,624 v-10 M796,216 v10 M856.9,624 v-5 M856.9,216 v5 M187,623.7 h10 M860,623.7 h-10 M187,586.5 h5 M860,586.5 h-5 M187,549.4 h10 M860,549.4 h-10 M187,512.2 h5 M860,512.2 h-5 M187,475 h10 M860,475 h-10 M187,437.9 h5 M860,437.9 h-5 M187,400.7 h10 M860,400.7 h-10 M187,363.5 h5 M860,363.5 h-5 M187,326.3 h10 M860,326.3 h-10 M187,289.2 h5 M860,289.2 h-5 M187,252 h10 M860,252 h-10" stroke="#1a1a1a" stroke-width="2.2" fill="none"/>
<text x="188.5" y="668" font-size="34" text-anchor="middle" textLength="43" lengthAdjust="spacingAndGlyphs" font-family="Liberation Sans, sans-serif">1.0</text>
<text x="310.3" y="668" font-size="34" text-anchor="middle" textLength="43" lengthAdjust="spacingAndGlyphs" font-family="Liberation Sans, sans-serif">1.2</text>
<text x="432.1" y="668" font-size="34" text-anchor="middle" textLength="43" lengthAdjust="spacingAndGlyphs" font-family="Liberation Sans, sans-serif">1.4</text>
<text x="553.9" y="668" font-size="34" text-anchor="middle" textLength="43" lengthAdjust="spacingAndGlyphs" font-family="Liberation Sans, sans-serif">1.6</text>
<text x="675.7" y="668" font-size="34" text-anchor="middle" textLength="43" lengthAdjust="spacingAndGlyphs" font-family="Liberation Sans, sans-serif">1.8</text>
<text x="797.5" y="668" font-size="34" text-anchor="middle" textLength="43" lengthAdjust="spacingAndGlyphs" font-family="Liberation Sans, sans-serif">2.0</text>
<text x="175.5" y="635.7" font-size="34" text-anchor="end" textLength="42" lengthAdjust="spacingAndGlyphs" font-family="Liberation Sans, sans-serif">0.0</text>
<text x="175.5" y="561.4" font-size="34" text-anchor="end" textLength="42" lengthAdjust="spacingAndGlyphs" font-family="Liberation Sans, sans-serif">0.2</text>
<text x="175.5" y="487" font-size="34" text-anchor="end" textLength="42" lengthAdjust="spacingAndGlyphs" font-family="Liberation Sans, sans-serif">0.4</text>
<text x="175.5" y="412.7" font-size="34" text-anchor="end" textLength="42" lengthAdjust="spacingAndGlyphs" font-family="Liberation Sans, sans-serif">0.6</text>
<text x="175.5" y="338.3" font-size="34" text-anchor="end" textLength="42" lengthAdjust="spacingAndGlyphs" font-family="Liberation Sans, sans-serif">0.8</text>
<text x="175.5" y="264" font-size="34" text-anchor="end" textLength="42" lengthAdjust="spacingAndGlyphs" font-family="Liberation Sans, sans-serif">1.0</text>
<text x="352" y="717.7" font-size="41" textLength="343" lengthAdjust="spacingAndGlyphs" font-family="Liberation Sans, sans-serif">Photon energy (eV)</text>
<text transform="translate(111,519) rotate(-90)" x="0" y="0" font-size="41" textLength="313" lengthAdjust="spacingAndGlyphs" font-family="Liberation Sans, sans-serif">Intensity (Normalized)</text>
<line x1="306.7" y1="38.5" x2="306.7" y2="259" stroke="#000" stroke-width="5.2" stroke-dasharray="22 17.7"/>
<line x1="655.0" y1="38.5" x2="655.0" y2="259" stroke="#000" stroke-width="5.2" stroke-dasharray="22 17.7"/>
<rect x="116.7" y="770.8" width="711.1" height="643.7" fill="none" stroke="#000" stroke-width="3.8"/>
<path d="M187.6,770.8 v5 M187.6,1414.5 v-5 M258.6,770.8 v10 M258.6,1414.5 v-10 M329.6,770.8 v5 M329.6,1414.5 v-5 M400.6,770.8 v10 M400.6,1414.5 v-10 M471.6,770.8 v5 M471.6,1414.5 v-5 M542.6,770.8 v10 M542.6,1414.5 v-10 M613.6,770.8 v5 M613.6,1414.5 v-5 M684.6,770.8 v10 M684.6,1414.5 v-10 M755.6,770.8 v5 M755.6,1414.5 v-5 M116.7,1396.2 h11 M827.8,1396.2 h-11 M116.7,1338.4 h7 M827.8,1338.4 h-7 M116.7,1280.6 h11 M827.8,1280.6 h-11 M116.7,1222.8 h7 M827.8,1222.8 h-7 M116.7,1165 h11 M827.8,1165 h-11 M116.7,1107.3 h7 M827.8,1107.3 h-7 M116.7,1049.5 h11 M827.8,1049.5 h-11 M116.7,991.7 h7 M827.8,991.7 h-7 M116.7,933.9 h11 M827.8,933.9 h-11 M116.7,876.1 h7 M827.8,876.1 h-7 M116.7,818.4 h11 M827.8,818.4 h-11" stroke="#000" stroke-width="3.6" fill="none"/>
<text x="107" y="1407.6" font-size="39" text-anchor="end" fill="#444" font-family="Liberation Sans, sans-serif">0.8</text>
<text x="107" y="1292" font-size="39" text-anchor="end" fill="#444" font-family="Liberation Sans, sans-serif">1.0</text>
<text x="107" y="1176.4" font-size="39" text-anchor="end" fill="#444" font-family="Liberation Sans, sans-serif">1.2</text>
<text x="107" y="1060.9" font-size="39" text-anchor="end" fill="#444" font-family="Liberation Sans, sans-serif">1.4</text>
<text x="107" y="945.3" font-size="39" text-anchor="end" fill="#444" font-family="Liberation Sans, sans-serif">1.6</text>
<text x="107" y="829.8" font-size="39" text-anchor="end" fill="#444" font-family="Liberation Sans, sans-serif">1.8</text>
<text x="116.6" y="1456.8" font-size="39" text-anchor="middle" fill="#333" font-family="Liberation Sans, sans-serif">2</text>
<text x="258.6" y="1456.8" font-size="39" text-anchor="middle" fill="#333" font-family="Liberation Sans, sans-serif">4</text>
<text x="400.6" y="1456.8" font-size="39" text-anchor="middle" fill="#333" font-family="Liberation Sans, sans-serif">6</text>
<text x="542.6" y="1456.8" font-size="39" text-anchor="middle" fill="#333" font-family="Liberation Sans, sans-serif">8</text>
<text x="684.6" y="1456.8" font-size="39" text-anchor="middle" fill="#333" font-family="Liberation Sans, sans-serif">10</text>
<text x="826.6" y="1456.8" font-size="39" text-anchor="middle" fill="#333" font-family="Liberation Sans, sans-serif">12</text>
<text x="358" y="1497.5" font-size="38" fill="#444" font-family="Liberation Sans, sans-serif">Diameter (nm)</text>
<text transform="translate(38.5,1267) rotate(-90)" font-size="38" fill="#444" textLength="353" lengthAdjust="spacingAndGlyphs" font-family="Liberation Sans, sans-serif">PL peak energy (eV)</text>
<text x="2" y="784.6" font-size="33" font-family="Liberation Sans, sans-serif">(b)</text>
<line x1="118.7" y1="1212.8" x2="825.8" y2="1212.8" stroke="#ff00ff" stroke-width="3.2" stroke-dasharray="7 5.5"/>
<path d="M156.4,853.0 160.4,859.3 164.4,865.6 168.4,871.8 172.4,877.9 176.4,884.0 180.4,890.1 184.4,896.1 188.5,902.1 192.5,908.0 196.5,913.8 200.5,919.7 204.5,925.4 208.5,931.2 212.5,936.8 216.5,942.5 220.6,948.1 224.6,953.8 228.6,959.6 232.6,965.3 236.6,970.9 240.6,976.6 244.6,982.1 248.6,987.6 252.7,992.9 256.7,998.1 260.7,1003.1 264.7,1007.9 268.7,1012.5 272.7,1016.9 276.7,1021.1 280.7,1025.1 284.8,1029.0 288.8,1032.8 292.8,1036.6 296.8,1040.2 300.8,1043.8 304.8,1047.3 308.8,1050.7 312.8,1054.0 316.8,1057.3 320.9,1060.5 324.9,1063.6 328.9,1066.7 332.9,1069.7 336.9,1072.7 340.9,1075.7 344.9,1078.6 348.9,1081.4 353.0,1084.2 357.0,1087.0 361.0,1089.7 365.0,1092.4 369.0,1094.9 373.0,1097.4 377.0,1099.8 381.0,1102.1 385.1,1104.5 389.1,1106.8 393.1,1109.1 397.1,1111.4 401.1,1113.8 405.1,1116.1 409.1,1118.5 413.1,1121.0 417.2,1123.7 421.2,1126.5 425.2,1129.3 429.2,1132.2 433.2,1135.2 437.2,1138.0 441.2,1140.9 445.2,1143.6 449.3,1146.2 453.3,1148.6 457.3,1150.8 461.3,1152.7 465.3,1154.3 469.3,1155.6 473.3,1156.8 477.3,1158.0 481.3,1159.1 485.4,1160.2 489.4,1161.3 493.4,1162.3 497.4,1163.3 501.4,1164.3 505.4,1165.2 509.4,1166.1 513.4,1167.0 517.5,1167.9 521.5,1168.7 525.5,1169.5 529.5,1170.3 533.5,1171.1 537.5,1171.8 541.5,1172.6 545.5,1173.3 549.6,1173.9 553.6,1174.6 557.6,1175.2 561.6,1175.8 565.6,1176.4 569.6,1177.0 573.6,1177.6 577.6,1178.1 581.7,1178.6 585.7,1179.1 589.7,1179.6 593.7,1180.1 597.7,1180.6 601.7,1181.0 605.7,1181.5 609.7,1181.9 613.8,1182.3 617.8,1182.7 621.8,1183.1 625.8,1183.5 629.8,1183.9 633.8,1184.3 637.8,1184.7 641.8,1185.1 645.9,1185.4 649.9,1185.8 653.9,1186.2 657.9,1186.5 661.9,1186.9 665.9,1187.2 669.9,1187.6 673.9,1187.9 677.9,1188.2 682.0,1188.5 686.0,1188.8 690.0,1189.1 694.0,1189.4 698.0,1189.7 702.0,1190.0 706.0,1190.2 710.0,1190.5 714.1,1190.7 718.1,1190.9 722.1,1191.1 726.1,1191.3 730.1,1191.5 734.1,1191.6 738.1,1191.8 742.1,1191.9 746.2,1192.0 750.2,1192.1 754.2,1192.2" fill="none" stroke="#7a7a7a" stroke-width="3.2" stroke-dasharray="8 6"/>
<path d="M172.7,875.0 175.4,884.5 178.1,893.9 180.8,903.2 183.6,912.4 186.3,921.4 189.0,930.3 191.7,938.8 194.4,947.1 197.1,955.1 199.8,962.8 202.6,970.0 205.3,976.9 208.0,983.3 210.7,989.3 213.4,994.8 216.1,1000.0 218.8,1005.1 221.6,1010.2 224.3,1015.0 227.0,1019.8 229.7,1024.5 232.4,1029.0 235.1,1033.4 237.9,1037.7 240.6,1041.9 243.3,1046.0 246.0,1049.9 248.7,1053.8 251.4,1057.6 254.1,1061.2 256.9,1064.7 259.6,1068.2 262.3,1071.5 265.0,1074.7 267.7,1077.9 270.4,1080.9 273.1,1083.9 275.9,1086.7 278.6,1089.5 281.3,1092.1 284.0,1094.7 286.7,1097.2 289.4,1099.6 292.2,1101.9 294.9,1104.1 297.6,1106.2 300.3,1108.3 303.0,1110.3 305.7,1112.2 308.4,1114.0 311.2,1115.8 313.9,1117.6 316.6,1119.3 319.3,1121.0 322.0,1122.7 324.7,1124.3 327.5,1125.9 330.2,1127.5 332.9,1129.1 335.6,1130.7 338.3,1132.3 341.0,1133.9 343.7,1135.5 346.5,1137.1 349.2,1138.8 351.9,1140.5 354.6,1142.3 357.3,1144.0 360.0,1145.9 362.7,1147.8 365.5,1149.7 368.2,1151.6 370.9,1153.6 373.6,1155.6 376.3,1157.6 379.0,1159.6 381.8,1161.6 384.5,1163.6 387.2,1165.6 389.9,1167.6 392.6,1169.5 395.3,1171.4 398.0,1173.3 400.8,1175.2 403.5,1177.0 406.2,1178.8 408.9,1180.5 411.6,1182.2 414.3,1183.8 417.1,1185.3 419.8,1186.8 422.5,1188.1 425.2,1189.4 427.9,1190.6 430.6,1191.7 433.3,1192.8 436.1,1193.9 438.8,1195.0 441.5,1196.0 444.2,1197.1 446.9,1198.1 449.6,1199.2 452.3,1200.2 455.1,1201.3 457.8,1202.3 460.5,1203.3 463.2,1204.3 465.9,1205.3 468.6,1206.2 471.4,1207.2 474.1,1208.1 476.8,1209.1 479.5,1210.0 482.2,1210.9 484.9,1211.8 487.6,1212.7 490.4,1213.5 493.1,1214.4 495.8,1215.2 498.5,1216.0 501.2,1216.8 503.9,1217.6 506.7,1218.3 509.4,1219.1 512.1,1219.8 514.8,1220.5 517.5,1221.2 520.2,1221.9 522.9,1222.5 525.7,1223.1 528.4,1223.8 531.1,1224.3 533.8,1224.9 536.5,1225.5 539.2,1226.0 541.9,1226.5 544.7,1226.9 547.4,1227.4 550.1,1227.8 552.8,1228.2 555.5,1228.6 558.2,1229.0 561.0,1229.3 563.7,1229.6 566.4,1229.9 569.1,1230.1 571.8,1230.3 574.5,1230.5 577.2,1230.8 580.0,1231.0 582.7,1231.2 585.4,1231.4 588.1,1231.6 590.8,1231.8 593.5,1231.9 596.2,1232.1 599.0,1232.3 601.7,1232.5 604.4,1232.7 607.1,1232.9 609.8,1233.0 612.5,1233.2 615.3,1233.4 618.0,1233.5 620.7,1233.7 623.4,1233.9 626.1,1234.0 628.8,1234.2 631.5,1234.3 634.3,1234.5 637.0,1234.6 639.7,1234.7 642.4,1234.9 645.1,1235.0 647.8,1235.1 650.6,1235.2 653.3,1235.4 656.0,1235.5 658.7,1235.6 661.4,1235.7 664.1,1235.8 666.8,1235.9 669.6,1236.0 672.3,1236.1 675.0,1236.1 677.7,1236.2 680.4,1236.3 683.1,1236.3 685.8,1236.4 688.6,1236.5 691.3,1236.5 694.0,1236.5 696.7,1236.6 699.4,1236.6 702.1,1236.6 704.9,1236.7 707.6,1236.7 710.3,1236.7 713.0,1236.7" fill="none" stroke="#808000" stroke-width="3.1" stroke-dasharray="13 13"/>
<path d="M174.1,1049.5 176.8,1056.6 179.5,1063.7 182.3,1070.7 185.0,1077.6 187.7,1084.3 190.4,1090.9 193.1,1097.3 195.8,1103.5 198.5,1109.5 201.3,1115.2 204.0,1120.5 206.7,1125.6 209.4,1130.3 212.1,1134.6 214.8,1138.6 217.6,1142.5 220.3,1146.3 223.0,1150.0 225.7,1153.6 228.4,1157.2 231.1,1160.7 233.8,1164.1 236.6,1167.4 239.3,1170.7 242.0,1173.8 244.7,1176.9 247.4,1179.9 250.1,1182.7 252.8,1185.5 255.6,1188.2 258.3,1190.8 261.0,1193.3 263.7,1195.7 266.4,1198.0 269.1,1200.2 271.9,1202.3 274.6,1204.2 277.3,1206.1 280.0,1207.8 282.7,1209.5 285.4,1211.0 288.1,1212.4 290.9,1213.8 293.6,1215.0 296.3,1216.2 299.0,1217.3 301.7,1218.4 304.4,1219.5 307.2,1220.4 309.9,1221.4 312.6,1222.3 315.3,1223.2 318.0,1224.0 320.7,1224.8 323.4,1225.7 326.2,1226.4 328.9,1227.2 331.6,1228.0 334.3,1228.8 337.0,1229.6 339.7,1230.4 342.4,1231.3 345.2,1232.1 347.9,1233.0 350.6,1233.9 353.3,1234.9 356.0,1235.9 358.7,1236.9 361.5,1237.9 364.2,1239.0 366.9,1240.1 369.6,1241.2 372.3,1242.3 375.0,1243.4 377.7,1244.5 380.5,1245.7 383.2,1246.8 385.9,1248.0 388.6,1249.1 391.3,1250.3 394.0,1251.4 396.8,1252.6 399.5,1253.7 402.2,1254.8 404.9,1255.9 407.6,1257.0 410.3,1258.0 413.0,1259.0 415.8,1260.0 418.5,1261.0 421.2,1262.0 423.9,1262.9 426.6,1263.8 429.3,1264.6 432.0,1265.4 434.8,1266.2 437.5,1267.1 440.2,1267.9 442.9,1268.8 445.6,1269.6 448.3,1270.5 451.1,1271.3 453.8,1272.2 456.5,1273.1 459.2,1273.9 461.9,1274.8 464.6,1275.7 467.3,1276.5 470.1,1277.4 472.8,1278.3 475.5,1279.1 478.2,1280.0 480.9,1280.8 483.6,1281.6 486.3,1282.4 489.1,1283.2 491.8,1284.0 494.5,1284.8 497.2,1285.6 499.9,1286.4 502.6,1287.1 505.4,1287.8 508.1,1288.5 510.8,1289.2 513.5,1289.9 516.2,1290.6 518.9,1291.2 521.6,1291.8 524.4,1292.4 527.1,1293.0 529.8,1293.5 532.5,1294.0 535.2,1294.5 537.9,1294.9 540.7,1295.4 543.4,1295.8 546.1,1296.1 548.8,1296.5 551.5,1296.8 554.2,1297.1 556.9,1297.3 559.7,1297.5 562.4,1297.7 565.1,1297.8 567.8,1297.9 570.5,1297.9 573.2,1297.9 575.9,1297.9 578.7,1297.9 581.4,1297.9 584.1,1297.9 586.8,1297.9 589.5,1297.9 592.2,1297.9 595.0,1297.9 597.7,1297.9 600.4,1297.9 603.1,1297.9 605.8,1297.9 608.5,1297.9 611.2,1297.8 614.0,1297.8 616.7,1297.8 619.4,1297.8 622.1,1297.7 624.8,1297.7 627.5,1297.7 630.3,1297.6 633.0,1297.6 635.7,1297.5 638.4,1297.5 641.1,1297.4 643.8,1297.3 646.5,1297.3 649.3,1297.2 652.0,1297.1 654.7,1297.0 657.4,1296.9 660.1,1296.8 662.8,1296.7 665.5,1296.6 668.3,1296.5 671.0,1296.4 673.7,1296.3 676.4,1296.1 679.1,1296.0 681.8,1295.8 684.6,1295.7 687.3,1295.5 690.0,1295.3 692.7,1295.1 695.4,1294.9 698.1,1294.7 700.8,1294.5 703.6,1294.3 706.3,1294.1 709.0,1293.8 711.7,1293.6 714.4,1293.3" fill="none" stroke="#808000" stroke-width="3.1" stroke-dasharray="13 13"/>
<path d="M171.3,1322.2 174.0,1324.7 176.7,1327.3 179.4,1329.8 182.1,1332.2 184.8,1334.6 187.6,1337.0 190.3,1339.2 193.0,1341.4 195.7,1343.4 198.4,1345.3 201.1,1347.1 203.9,1348.7 206.6,1350.1 209.3,1351.3 212.0,1352.3 214.7,1353.2 217.4,1354.1 220.1,1354.9 222.9,1355.7 225.6,1356.4 228.3,1357.1 231.0,1357.7 233.7,1358.3 236.4,1358.9 239.1,1359.5 241.9,1360.0 244.6,1360.5 247.3,1361.0 250.0,1361.5 252.7,1361.9 255.4,1362.4 258.2,1362.9 260.9,1363.4 263.6,1363.9 266.3,1364.5 269.0,1365.0 271.7,1365.6 274.4,1366.2 277.2,1366.9 279.9,1367.6 282.6,1368.3 285.3,1369.1 288.0,1370.0 290.7,1371.1 293.5,1372.2 296.2,1373.5 298.9,1374.8 301.6,1376.2 304.3,1377.7 307.0,1379.2 309.7,1380.8 312.5,1382.3 315.2,1383.9 317.9,1385.4 320.6,1386.9 323.3,1388.4 326.0,1389.8 328.7,1391.2 331.5,1392.5 334.2,1393.6 336.9,1394.7 339.6,1395.6 342.3,1396.4 345.0,1397.0 347.8,1397.5 350.5,1397.8 353.2,1397.9 355.9,1397.9 358.6,1397.9 361.3,1397.9 364.0,1397.9 366.8,1397.9 369.5,1397.9 372.2,1397.9 374.9,1397.9 377.6,1397.9 380.3,1397.9 383.0,1397.9 385.8,1397.9 388.5,1397.9 391.2,1397.9 393.9,1397.9 396.6,1397.9 399.3,1397.9 402.1,1397.9 404.8,1397.9 407.5,1397.9 410.2,1397.9 412.9,1397.9 415.6,1397.9 418.3,1397.9 421.1,1397.9 423.8,1397.9 426.5,1397.9 429.2,1397.9 431.9,1397.9 434.6,1397.9 437.4,1398.0 440.1,1398.1 442.8,1398.2 445.5,1398.3 448.2,1398.4 450.9,1398.6 453.6,1398.7 456.4,1398.9 459.1,1399.1 461.8,1399.3 464.5,1399.5 467.2,1399.7 469.9,1399.9 472.6,1400.2 475.4,1400.4 478.1,1400.6 480.8,1400.9 483.5,1401.2 486.2,1401.4 488.9,1401.7 491.7,1402.0 494.4,1402.3 497.1,1402.5 499.8,1402.8 502.5,1403.1 505.2,1403.4 507.9,1403.7 510.7,1403.9 513.4,1404.2 516.1,1404.5 518.8,1404.7 521.5,1405.0 524.2,1405.2 527.0,1405.5 529.7,1405.7 532.4,1405.9 535.1,1406.2 537.8,1406.4 540.5,1406.6 543.2,1406.7 546.0,1406.9 548.7,1407.1 551.4,1407.2 554.1,1407.3 556.8,1407.4 559.5,1407.5 562.2,1407.6 565.0,1407.7 567.7,1407.7 570.4,1407.7 573.1,1407.7 575.8,1407.6 578.5,1407.5 581.3,1407.4 584.0,1407.2 586.7,1407.0 589.4,1406.7 592.1,1406.4 594.8,1406.0 597.5,1405.6 600.3,1405.1 603.0,1404.7 605.7,1404.2 608.4,1403.6 611.1,1403.0 613.8,1402.4 616.6,1401.7 619.3,1401.0 622.0,1400.3 624.7,1399.5 627.4,1398.7 630.1,1397.9 632.8,1397.1 635.6,1396.2 638.3,1395.3 641.0,1394.3 643.7,1393.4 646.4,1392.4 649.1,1391.3 651.8,1390.3 654.6,1389.2 657.3,1388.1 660.0,1387.0 662.7,1385.9 665.4,1384.7 668.1,1383.6 670.9,1382.4 673.6,1381.1 676.3,1379.9 679.0,1378.7 681.7,1377.4 684.4,1376.1 687.1,1374.8 689.9,1373.5 692.6,1372.2 695.3,1370.9 698.0,1369.5 700.7,1368.2 703.4,1366.8 706.1,1365.4 708.9,1364.0 711.6,1362.6" fill="none" stroke="#808000" stroke-width="3.1" stroke-dasharray="13 13"/>
<path d="M157.8,887.1 H203.2 M157.8,880.1 v14 M203.2,880.1 v14" stroke="#808080" stroke-width="3.2" fill="none"/>
<rect x="171.5" y="878.9" width="16.5" height="16.5" fill="#808080"/>
<path d="M243,1031.6 H302.6 M243,1024.6 v14 M302.6,1024.6 v14" stroke="#808080" stroke-width="3.2" fill="none"/>
<rect x="264.6" y="1023.3" width="16.5" height="16.5" fill="#808080"/>
<path d="M331,1089.9 H387.8 M331,1082.9 v14 M387.8,1082.9 v14" stroke="#808080" stroke-width="3.2" fill="none"/>
<rect x="349.8" y="1081.7" width="16.5" height="16.5" fill="#808080"/>
<path d="M372.2,1118.2 H445.3 M372.2,1111.2 v14 M445.3,1111.2 v14" stroke="#808080" stroke-width="3.2" fill="none"/>
<rect x="399.4" y="1110" width="16.5" height="16.5" fill="#808080"/>
<path d="M421.2,1159.3 H495 M421.2,1152.3 v14 M495,1152.3 v14" stroke="#808080" stroke-width="3.2" fill="none"/>
<rect x="449.9" y="1151" width="16.5" height="16.5" fill="#808080"/>
<path d="M578.8,1183 H664.7 M578.8,1176 v14 M664.7,1176 v14" stroke="#808080" stroke-width="3.2" fill="none"/>
<rect x="613.2" y="1174.7" width="16.5" height="16.5" fill="#808080"/>
<path d="M163.2,867 h19 l-9.5,16 z" fill="#fff" stroke="#808000" stroke-width="2.2" stroke-linejoin="miter"/>
<path d="M202.9,984.9 h19 l-9.5,16 z" fill="#fff" stroke="#808000" stroke-width="2.2" stroke-linejoin="miter"/>
<path d="M277.5,1089.4 h19 l-9.5,16 z" fill="#fff" stroke="#808000" stroke-width="2.2" stroke-linejoin="miter"/>
<path d="M346.4,1135.1 h19 l-9.5,16 z" fill="#fff" stroke="#808000" stroke-width="2.2" stroke-linejoin="miter"/>
<path d="M419.5,1183 h19 l-9.5,16 z" fill="#fff" stroke="#808000" stroke-width="2.2" stroke-linejoin="miter"/>
<path d="M562.2,1222.3 h19 l-9.5,16 z" fill="#fff" stroke="#808000" stroke-width="2.2" stroke-linejoin="miter"/>
<path d="M703.5,1228.7 h19 l-9.5,16 z" fill="#fff" stroke="#808000" stroke-width="2.2" stroke-linejoin="miter"/>
<path d="M174.1,1039 l10.5,10.5 l-10.5,10.5 l-10.5,-10.5 z" fill="#fff" stroke="#808000" stroke-width="2.2"/>
<path d="M213.2,1125.6 l10.5,10.5 l-10.5,10.5 l-10.5,-10.5 z" fill="#fff" stroke="#808000" stroke-width="2.2"/>
<path d="M287,1201.3 l10.5,10.5 l-10.5,10.5 l-10.5,-10.5 z" fill="#fff" stroke="#808000" stroke-width="2.2"/>
<path d="M355.2,1225 l10.5,10.5 l-10.5,10.5 l-10.5,-10.5 z" fill="#fff" stroke="#808000" stroke-width="2.2"/>
<path d="M429.7,1254.2 l10.5,10.5 l-10.5,10.5 l-10.5,-10.5 z" fill="#fff" stroke="#808000" stroke-width="2.2"/>
<path d="M572.4,1287.4 l10.5,10.5 l-10.5,10.5 l-10.5,-10.5 z" fill="#fff" stroke="#808000" stroke-width="2.2"/>
<path d="M714.4,1282.8 l10.5,10.5 l-10.5,10.5 l-10.5,-10.5 z" fill="#fff" stroke="#808000" stroke-width="2.2"/>
<path d="M178.8,1331.7 v-19 l-15,9.5 z" fill="#fff" stroke="#808000" stroke-width="2.2"/>
<path d="M217.8,1361.2 v-19 l-15,9.5 z" fill="#fff" stroke="#808000" stroke-width="2.2"/>
<path d="M292.4,1378.5 v-19 l-15,9.5 z" fill="#fff" stroke="#808000" stroke-width="2.2"/>
<path d="M360.5,1407.4 v-19 l-15,9.5 z" fill="#fff" stroke="#808000" stroke-width="2.2"/>
<path d="M435.8,1407.4 v-19 l-15,9.5 z" fill="#fff" stroke="#808000" stroke-width="2.2"/>
<path d="M578.5,1417.2 v-19 l-15,9.5 z" fill="#fff" stroke="#808000" stroke-width="2.2"/>
<path d="M719.1,1372.1 v-19 l-15,9.5 z" fill="#fff" stroke="#808000" stroke-width="2.2"/>
<path d="M243.3,1084.7 H331 M243.3,1077.7 v14 M331,1077.7 v14" stroke="#ff7f00" stroke-width="3.2" fill="none"/>
<path d="M307.6,1132.7 H422.6 M307.6,1125.7 v14 M422.6,1125.7 v14" stroke="#ff7f00" stroke-width="3.2" fill="none"/>
<path d="M343.1,1182.4 H485.8 M343.1,1175.4 v14 M485.8,1175.4 v14" stroke="#ff7f00" stroke-width="3.2" fill="none"/>
<path d="M200.4,1150.9 H245.8 M200.4,1143.9 v14 M245.8,1143.9 v14" stroke="#0000ff" stroke-width="3.2" fill="none"/>
<path d="M272.1,1202.6 H341 M272.1,1195.6 v14 M341,1195.6 v14" stroke="#0000ff" stroke-width="3.2" fill="none"/>
<path d="M296.2,1226.9 H359.4 M296.2,1219.9 v14 M359.4,1219.9 v14" stroke="#0000ff" stroke-width="3.2" fill="none"/>
<path d="M338.1,1253.4 H419.8 M338.1,1246.4 v14 M419.8,1246.4 v14" stroke="#0000ff" stroke-width="3.2" fill="none"/>
<path d="M466.6,1304.9 H577.4 M466.6,1297.9 v14 M577.4,1297.9 v14" stroke="#0000ff" stroke-width="3.2" fill="none"/>
<path d="M292.7,1188.7 H386.4 M292.7,1181.7 v14 M386.4,1181.7 v14" stroke="#ff0000" stroke-width="3.2" fill="none"/>
<path d="M398.5,1287 H507.1 M398.5,1280 v14 M507.1,1280 v14" stroke="#ff0000" stroke-width="3.2" fill="none"/>
<path d="M506.4,1330.9 H639.9 M506.4,1323.9 v14 M639.9,1323.9 v14" stroke="#ff0000" stroke-width="3.2" fill="none"/>
<path d="M529.1,1341.8 H694.5 M529.1,1334.8 v14 M694.5,1334.8 v14" stroke="#ff0000" stroke-width="3.2" fill="none"/>
<path d="M636.3,1348.5 H827.8 M636.3,1341.5 v14" stroke="#ff0000" stroke-width="3.2" fill="none"/>
<polygon points="287.0,1072.2 290.3,1080.2 298.9,1080.9 292.3,1086.5 294.3,1094.8 287.0,1090.4 279.7,1094.8 281.7,1086.5 275.1,1080.9 283.7,1080.2" fill="#ff7f00"/>
<polygon points="365.8,1120.2 369.1,1128.1 377.7,1128.8 371.2,1134.4 373.2,1142.8 365.8,1138.3 358.5,1142.8 360.5,1134.4 353.9,1128.8 362.5,1128.1" fill="#ff7f00"/>
<polygon points="414.8,1169.9 418.1,1177.8 426.7,1178.5 420.1,1184.1 422.1,1192.5 414.8,1188.0 407.5,1192.5 409.5,1184.1 402.9,1178.5 411.5,1177.8" fill="#ff7f00"/>
<circle cx="221.7" cy="1150.9" r="9" fill="url(#gblue)"/>
<circle cx="305.5" cy="1202.6" r="9" fill="url(#gblue)"/>
<circle cx="328.2" cy="1226.9" r="9" fill="url(#gblue)"/>
<circle cx="378.6" cy="1253.4" r="9" fill="url(#gblue)"/>
<circle cx="522" cy="1304.9" r="9" fill="url(#gblue)"/>
<circle cx="338.1" cy="1188.7" r="9" fill="url(#gred)"/>
<circle cx="453.1" cy="1287" r="9" fill="url(#gred)"/>
<circle cx="572.4" cy="1330.9" r="9" fill="url(#gred)"/>
<circle cx="611.5" cy="1341.8" r="9" fill="url(#gred)"/>
<circle cx="740.7" cy="1348.5" r="9" fill="url(#gred)"/>
<rect x="539.6" y="771.5" width="345" height="366.5" fill="#fff" stroke="#000" stroke-width="1.8"/>
<path d="M114.8,770.8 H829.7" stroke="#000" stroke-width="3.8"/>
<circle cx="581.6" cy="798.4" r="9" fill="url(#gred)"/>
<circle cx="581.6" cy="850" r="9" fill="url(#gblue)"/>
<polygon points="581.6,890.5 584.9,898.4 593.5,899.1 586.9,904.7 588.9,913.1 581.6,908.6 574.3,913.1 576.3,904.7 569.7,899.1 578.3,898.4" fill="#ff7f00"/>
<rect x="573.3" y="943.7" width="16.5" height="16.5" fill="#808080"/>
<text x="628.8" y="808.6" font-size="34" font-family="Liberation Sans, sans-serif">HBP <tspan font-style="italic">T</tspan><tspan font-size="23" dy="9">a</tspan><tspan dy="-9"> =1200</tspan><tspan font-size="22" dy="-13">o</tspan><tspan dy="13">C</tspan></text>
<text x="628.8" y="860.3" font-size="34" font-family="Liberation Sans, sans-serif">HBP <tspan font-style="italic">T</tspan><tspan font-size="23" dy="9">a</tspan><tspan dy="-9"> =1150</tspan><tspan font-size="22" dy="-13">o</tspan><tspan dy="13">C</tspan></text>
<text x="628.8" y="912.4" font-size="34" font-family="Liberation Sans, sans-serif">LBP <tspan font-style="italic">T</tspan><tspan font-size="23" dy="9">a</tspan><tspan dy="-9"> =1150</tspan><tspan font-size="22" dy="-13">o</tspan><tspan dy="13">C</tspan></text>
<text x="628.8" y="962.3" font-size="34" font-family="Liberation Sans, sans-serif">Yu, <tspan font-style="italic">et al.</tspan> (2017)</text>
<text x="545.7" y="1002" font-size="34" font-family="Liberation Sans, sans-serif">Delerue, (2018)</text>
<path d="M543.4,1032.6 h14.4 M591.8,1032.6 h15" stroke="#808000" stroke-width="3.4"/>
<path d="M572.1,1024.6 h19 l-9.5,16 z" fill="#fff" stroke="#808000" stroke-width="2.2" stroke-linejoin="miter"/>
<text x="627.7" y="1043.8" font-size="34" font-family="Liberation Sans, sans-serif">2 pairs</text>
<path d="M543.4,1074.9 h14.4 M591.8,1074.9 h15" stroke="#808000" stroke-width="3.4"/>
<path d="M581.6,1064.4 l10.5,10.5 l-10.5,10.5 l-10.5,-10.5 z" fill="#fff" stroke="#808000" stroke-width="2.2"/>
<text x="627.7" y="1086.1" font-size="34" font-family="Liberation Sans, sans-serif">5 pairs</text>
<path d="M543.4,1115.7 h14.4 M591.8,1115.7 h15" stroke="#808000" stroke-width="3.4"/>
<path d="M589.1,1125.2 v-19 l-15,9.5 z" fill="#fff" stroke="#808000" stroke-width="2.2"/>
<text x="628.8" y="1126.9" font-size="34" font-family="Liberation Sans, sans-serif">10 pairs</text>
<rect x="140.3" y="2134" width="13.3" height="13.3" fill="#0000ff"/>
<rect x="152.1" y="2133.2" width="13.3" height="13.3" fill="#0000ff"/>
<rect x="187.6" y="2132.9" width="13.3" height="13.3" fill="#0000ff"/>
<rect x="227.9" y="2132.1" width="13.3" height="13.3" fill="#0000ff"/>
<rect x="261.8" y="2131.2" width="13.3" height="13.3" fill="#0000ff"/>
<rect x="300.4" y="2130.4" width="13.3" height="13.3" fill="#0000ff"/>
<rect x="209.7" y="2131.4" width="13.3" height="13.3" fill="#00ff00"/>
<rect x="229.4" y="2131.7" width="13.3" height="13.3" fill="#00ff00"/>
<rect x="237.3" y="2131.1" width="13.3" height="13.3" fill="#00ff00"/>
<rect x="263.4" y="2128.8" width="13.3" height="13.3" fill="#00ff00"/>
<rect x="278.3" y="2127.3" width="13.3" height="13.3" fill="#00ff00"/>
<rect x="279.9" y="2131.2" width="13.3" height="13.3" fill="#00ff00"/>
<rect x="306" y="2125.3" width="13.3" height="13.3" fill="#00ff00"/>
<rect x="377.7" y="2127" width="13.3" height="13.3" fill="#00ff00"/>
<rect x="619.9" y="1965.5" width="13.3" height="13.3" fill="#ff0000"/>
<rect x="616" y="2020.2" width="13.3" height="13.3" fill="#ff0000"/>
<rect x="573.8" y="2068.6" width="13.3" height="13.3" fill="#ff0000"/>
<rect x="582" y="2071.6" width="13.3" height="13.3" fill="#ff0000"/>
<rect x="592.3" y="2075.8" width="13.3" height="13.3" fill="#ff0000"/>
<rect x="602.5" y="2070" width="13.3" height="13.3" fill="#ff0000"/>
<rect x="634.1" y="2057.1" width="13.3" height="13.3" fill="#ff0000"/>
<rect x="633.7" y="2065.1" width="13.3" height="13.3" fill="#ff0000"/>
<rect x="673.1" y="1987.3" width="13.3" height="13.3" fill="#000000"/>
<rect x="673.1" y="2013.9" width="13.3" height="13.3" fill="#000000"/>
<rect x="688.2" y="2028.9" width="13.3" height="13.3" fill="#000000"/>
<rect x="690.1" y="1927.3" width="13.3" height="13.3" fill="#000000"/>
<rect x="675.1" y="1936.8" width="13.3" height="13.3" fill="#000000"/>
<path d="M308.8,2144.7 h17 l-8.5,-15 z" fill="#00ffff"/>
<path d="M323.8,2144.2 h17 l-8.5,-15 z" fill="#00ffff"/>
<path d="M334.1,2137.4 h17 l-8.5,-15 z" fill="#00ffff"/>
<path d="M353.8,2142 h17 l-8.5,-15 z" fill="#00ffff"/>
<path d="M379.5,2126.5 h17 l-8.5,-15 z" fill="#00ffff"/>
<path d="M406.6,2127 h17 l-8.5,-15 z" fill="#00ffff"/>
<path d="M361.7,2130.5 h17 l-8.5,-15 z" fill="#ff00ff"/>
<path d="M377.5,2131.9 h17 l-8.5,-15 z" fill="#ff00ff"/>
<path d="M398,2130.8 h17 l-8.5,-15 z" fill="#ff00ff"/>
<path d="M386.9,2122.7 h17 l-8.5,-15 z" fill="#ff00ff"/>
<path d="M394.6,2122.9 h17 l-8.5,-15 z" fill="#ff00ff"/>
<path d="M397.8,2108.6 h17 l-8.5,-15 z" fill="#ff00ff"/>
<path d="M415.8,2101.4 h17 l-8.5,-15 z" fill="#ff00ff"/>
<path d="M432.1,2081.3 h17 l-8.5,-15 z" fill="#ff00ff"/>
<path d="M450,2054.9 h17 l-8.5,-15 z" fill="#ff00ff"/>
<path d="M485.5,2084.8 h17 l-8.5,-15 z" fill="#ff00ff"/>
<path d="M693.8,1675.3 h17 l-8.5,-15 z" fill="#ff8000"/>
<path d="M681.7,1744.2 h17 l-8.5,-15 z" fill="#ff8000"/>
<path d="M686.7,1761.7 h17 l-8.5,-15 z" fill="#ff8000"/>
<path d="M728.5,1752.2 h17 l-8.5,-15 z" fill="#ff8000"/>
<path d="M674.8,1854.3 h17 l-8.5,-15 z" fill="#ff8000"/>
<path d="M667,1865 h17 l-8.5,-15 z" fill="#ff8000"/>
<path d="M681.7,1902.7 h17 l-8.5,-15 z" fill="#ff8000"/>
<path d="M737.9,1908.1 h17 l-8.5,-15 z" fill="#ff8000"/>
<path d="M682.7,1946.9 h17 l-8.5,-15 z" fill="#ff8000"/>
<path d="M689.8,1960.2 h17 l-8.5,-15 z" fill="#ff8000"/>
<path d="M748.8,1655.7 h17 l-8.5,-15 z" fill="#808000"/>
<path d="M762.2,1792.5 h17 l-8.5,-15 z" fill="#808000"/>
<path d="M790.4,1945.6 h17 l-8.5,-15 z" fill="#808000"/>
<path d="M734,1759.1 h17 l-8.5,-15 z" fill="#808000"/>
<path d="M742.7,1785.8 h17 l-8.5,-15 z" fill="#808000"/>
<path d="M747.4,1789.9 h17 l-8.5,-15 z" fill="#808000"/>
<path d="M768.4,1920 h17 l-8.5,-15 z" fill="#808000"/>
<path d="M803.9,2015.2 h17 l-8.5,-15 z" fill="#808000"/>
<path d="M355.0,2146.0 362.1,2142.8 369.2,2139.6 376.4,2136.3 383.6,2133.0 390.7,2129.7 397.9,2126.4 405.0,2123.1 412.1,2119.9 419.2,2116.8 426.2,2113.8 433.1,2110.8 440.0,2108.0 446.9,2105.2 453.7,2102.5 460.6,2099.8 467.5,2097.1 474.4,2094.6 481.1,2092.1 487.8,2089.7 494.4,2087.4 500.8,2085.3 507.1,2083.3 513.1,2081.6 519.0,2080.0 524.7,2078.7 530.2,2077.5 535.5,2076.6 540.7,2075.9 545.8,2075.2 550.7,2074.8 555.5,2074.4 560.2,2074.0 564.8,2073.8 569.3,2073.5 573.7,2073.3 578.0,2073.0 582.2,2072.8 586.4,2072.7 590.4,2072.8 594.3,2073.0 598.1,2073.2 601.8,2073.4 605.4,2073.6 608.9,2073.7 612.3,2073.8 615.7,2073.7 618.9,2073.4 622.0,2073.0 625.0,2072.5 628.0,2071.9 630.9,2071.3 633.6,2070.6 636.3,2069.9 638.9,2069.0 641.3,2068.0 643.7,2066.8 646.0,2065.5 648.1,2063.9 650.1,2062.1 652.0,2060.0 653.8,2057.7 655.4,2055.1 656.9,2052.4 658.3,2049.4 659.5,2046.3 660.7,2042.9 661.8,2039.5 662.7,2035.8 663.6,2032.0 664.5,2028.1 665.3,2024.1 666.0,2020.0 666.6,2015.7 667.2,2011.3 667.6,2006.7 667.9,2001.9 668.1,1997.0 668.3,1992.0 668.4,1986.9 668.6,1981.6 668.6,1976.3 668.7,1970.9 668.9,1965.5 669.0,1960.0 669.1,1954.4 669.3,1948.8 669.3,1943.0 669.4,1937.2 669.5,1931.3 669.5,1925.2 669.5,1919.2 669.6,1913.0 669.7,1906.8 669.7,1900.6 669.9,1894.3 670.0,1888.0 670.2,1881.5 670.3,1874.8 670.5,1868.0 670.7,1861.0 670.9,1853.9 671.1,1846.9 671.3,1839.9 671.6,1833.0 671.9,1826.4 672.2,1819.9 672.6,1813.8 673.0,1808.0 673.5,1802.6 674.0,1797.5 674.6,1792.7 675.2,1788.1 675.8,1783.7 676.5,1779.4 677.2,1775.2 677.9,1771.0 678.7,1766.9 679.4,1762.7 680.2,1758.4 681.0,1754.0 681.8,1749.5 682.6,1744.8 683.4,1740.1 684.2,1735.4 685.0,1730.7 685.9,1726.1 686.8,1721.4 687.7,1716.9 688.7,1712.4 689.7,1708.1 690.8,1704.0 692.0,1700.0 693.3,1696.0 694.6,1691.7 696.0,1687.4 697.5,1683.0 699.0,1678.7 700.6,1674.7 702.1,1671.0 703.7,1667.7 705.3,1664.9 706.9,1662.8 708.5,1661.5 710.0,1661.0 711.5,1661.5 713.1,1662.8 714.6,1664.9 716.2,1667.7 717.8,1671.0 719.4,1674.7 720.9,1678.7 722.4,1683.0 723.9,1687.4 725.3,1691.7 726.7,1696.0 728.0,1700.0 729.2,1704.0 730.4,1708.1 731.5,1712.4 732.5,1716.9 733.5,1721.4 734.5,1726.1 735.4,1730.7 736.4,1735.4 737.3,1740.1 738.2,1744.8 739.1,1749.5 740.0,1754.0 740.9,1758.4 741.7,1762.7 742.5,1766.9 743.2,1771.0 744.0,1775.2 744.7,1779.4 745.4,1783.7 746.2,1788.1 747.1,1792.7 748.0,1797.5 748.9,1802.6 750.0,1808.0 751.2,1813.7 752.4,1819.5 753.7,1825.4 755.0,1831.6 756.4,1837.9 757.9,1844.4 759.3,1851.1 760.9,1858.0 762.4,1865.1 763.9,1872.5 765.5,1880.1 767.0,1888.0 768.6,1896.5 770.3,1905.9 772.2,1915.9 774.0,1926.3 775.9,1937.0 777.8,1947.6 779.6,1958.1 781.4,1968.1 783.1,1977.6 784.6,1986.2 785.9,1993.7 787.0,2000.0 787.9,2005.0 788.6,2008.9 789.1,2011.8 789.5,2014.0 789.8,2015.5 790.0,2016.6 790.1,2017.4 790.3,2018.0 790.4,2018.6 790.5,2019.4 790.7,2020.5 791.0,2022.0" fill="none" stroke="#a0a0a0" stroke-opacity="0.58" stroke-width="47" stroke-linecap="round" stroke-linejoin="round"/>
<rect x="111.0" y="1570.9" width="391.5" height="365.9" fill="#fff"/>
<rect x="142.7" y="1924.4" width="14.6" height="14.6" fill="#0000ff"/>
<rect x="155.8" y="1920.4" width="14.6" height="14.6" fill="#0000ff"/>
<rect x="195.1" y="1918.8" width="14.6" height="14.6" fill="#0000ff"/>
<rect x="239.6" y="1915.2" width="14.6" height="14.6" fill="#0000ff"/>
<rect x="277.2" y="1910.4" width="14.6" height="14.6" fill="#0000ff"/>
<rect x="320" y="1906.9" width="14.6" height="14.6" fill="#0000ff"/>
<rect x="219.6" y="1911.6" width="14.6" height="14.6" fill="#00ff00"/>
<rect x="241.4" y="1913.2" width="14.6" height="14.6" fill="#00ff00"/>
<rect x="250.1" y="1910" width="14.6" height="14.6" fill="#00ff00"/>
<rect x="278.9" y="1898.9" width="14.6" height="14.6" fill="#00ff00"/>
<rect x="295.5" y="1891.7" width="14.6" height="14.6" fill="#00ff00"/>
<rect x="297.3" y="1910.4" width="14.6" height="14.6" fill="#00ff00"/>
<rect x="326.1" y="1881.7" width="14.6" height="14.6" fill="#00ff00"/>
<rect x="405.6" y="1890.1" width="14.6" height="14.6" fill="#00ff00"/>
<path d="M329.9,1922.6 h17.5 l-8.8,-15.3 z" fill="#00ffff"/>
<path d="M346.5,1920.2 h17.5 l-8.8,-15.3 z" fill="#00ffff"/>
<path d="M357.9,1886.7 h17.5 l-8.8,-15.3 z" fill="#00ffff"/>
<path d="M379.7,1909 h17.5 l-8.8,-15.3 z" fill="#00ffff"/>
<path d="M408.2,1833.2 h17.5 l-8.8,-15.3 z" fill="#00ffff"/>
<path d="M438.2,1835.6 h17.5 l-8.8,-15.3 z" fill="#00ffff"/>
<path d="M388.4,1852.9 h17.5 l-8.8,-15.3 z" fill="#ff00ff"/>
<path d="M405.9,1859.6 h17.5 l-8.8,-15.3 z" fill="#ff00ff"/>
<path d="M428.6,1854.3 h17.5 l-8.8,-15.3 z" fill="#ff00ff"/>
<path d="M416.4,1814.9 h17.5 l-8.8,-15.3 z" fill="#ff00ff"/>
<path d="M424.9,1815.7 h17.5 l-8.8,-15.3 z" fill="#ff00ff"/>
<path d="M428.4,1745.8 h17.5 l-8.8,-15.3 z" fill="#ff00ff"/>
<path d="M448.4,1710.3 h17.5 l-8.8,-15.3 z" fill="#ff00ff"/>
<path d="M466.4,1612.2 h17.5 l-8.8,-15.3 z" fill="#ff00ff"/>
<rect x="111.0" y="1570.9" width="709.6" height="586.6" fill="none" stroke="#000" stroke-width="3.8"/>
<path d="M502.5,1570.9 V1936.8 H111" fill="none" stroke="#000" stroke-width="3.4"/>
<path d="M150.9,1570.9 v8 M150.9,2157.5 v-8 M190.3,1570.9 v4 M190.3,2157.5 v-4 M229.8,1570.9 v8 M229.8,2157.5 v-8 M269.2,1570.9 v4 M269.2,2157.5 v-4 M308.7,1570.9 v8 M308.7,2157.5 v-8 M348.1,1570.9 v4 M348.1,2157.5 v-4 M387.5,1570.9 v8 M387.5,2157.5 v-8 M427,1570.9 v4 M427,2157.5 v-4 M466.4,1570.9 v8 M466.4,2157.5 v-8 M505.9,1570.9 v4 M505.9,2157.5 v-4 M545.3,1570.9 v8 M545.3,2157.5 v-8 M584.7,1570.9 v4 M584.7,2157.5 v-4 M624.2,1570.9 v8 M624.2,2157.5 v-8 M663.6,1570.9 v4 M663.6,2157.5 v-4 M703.1,1570.9 v8 M703.1,2157.5 v-8 M742.5,1570.9 v4 M742.5,2157.5 v-4 M781.9,1570.9 v8 M781.9,2157.5 v-8 M111,2141.8 h10 M820.6,2141.8 h-11 M111,2060.3 h5 M820.6,2060.3 h-6 M111,1978.8 h10 M820.6,1978.8 h-11 M111,1897.3 h5 M820.6,1897.3 h-6 M111,1815.8 h10 M820.6,1815.8 h-11 M111,1734.3 h5 M820.6,1734.3 h-6 M111,1652.8 h10 M820.6,1652.8 h-11 M111,1571.3 h5 M820.6,1571.3 h-6" stroke="#000" stroke-width="3.4" fill="none"/>
<path d="M154.4,1936.8 v-5 M198,1936.8 v-3 M241.7,1936.8 v-5 M285.4,1936.8 v-3 M329.1,1936.8 v-5 M372.7,1936.8 v-3 M416.4,1936.8 v-5 M460.1,1936.8 v-3 M502.5,1857.5 h-5 M502.5,1777.7 h-5 M502.5,1697.9 h-5 M502.5,1618.1 h-5" stroke="#000" stroke-width="3" fill="none"/>
<text x="101.7" y="2151.3" font-size="34" text-anchor="end" font-family="Liberation Sans, sans-serif">0</text>
<text x="101.7" y="1988.3" font-size="34" text-anchor="end" font-family="Liberation Sans, sans-serif">10</text>
<text x="101.7" y="1825.3" font-size="34" text-anchor="end" font-family="Liberation Sans, sans-serif">20</text>
<text x="101.7" y="1662.3" font-size="34" text-anchor="end" font-family="Liberation Sans, sans-serif">30</text>
<text x="150.9" y="2190.4" font-size="34" text-anchor="middle" font-family="Liberation Sans, sans-serif">0.9</text>
<text x="229.8" y="2190.4" font-size="34" text-anchor="middle" font-family="Liberation Sans, sans-serif">1.0</text>
<text x="308.7" y="2190.4" font-size="34" text-anchor="middle" font-family="Liberation Sans, sans-serif">1.1</text>
<text x="387.5" y="2190.4" font-size="34" text-anchor="middle" font-family="Liberation Sans, sans-serif">1.2</text>
<text x="466.4" y="2190.4" font-size="34" text-anchor="middle" font-family="Liberation Sans, sans-serif">1.3</text>
<text x="545.3" y="2190.4" font-size="34" text-anchor="middle" font-family="Liberation Sans, sans-serif">1.4</text>
<text x="624.2" y="2190.4" font-size="34" text-anchor="middle" font-family="Liberation Sans, sans-serif">1.5</text>
<text x="703.1" y="2190.4" font-size="34" text-anchor="middle" font-family="Liberation Sans, sans-serif">1.6</text>
<text x="781.9" y="2190.4" font-size="34" text-anchor="middle" font-family="Liberation Sans, sans-serif">1.7</text>
<text x="318.5" y="2231.2" font-size="35.5" textLength="321" lengthAdjust="spacingAndGlyphs" font-family="Liberation Sans, sans-serif">PL peak energy (eV)</text>
<text transform="translate(50.1,2012.6) rotate(-90)" font-size="35.5" textLength="273" lengthAdjust="spacingAndGlyphs" font-family="Liberation Sans, sans-serif">Quantum yield (%)</text>
<text x="14.5" y="1594.6" font-size="34" font-family="Liberation Sans, sans-serif">(c)</text>
<text x="154.4" y="1969" font-size="31" text-anchor="middle" font-family="Liberation Sans, sans-serif">0.9</text>
<text x="241.7" y="1969" font-size="31" text-anchor="middle" font-family="Liberation Sans, sans-serif">1.0</text>
<text x="329.1" y="1969" font-size="31" text-anchor="middle" font-family="Liberation Sans, sans-serif">1.1</text>
<text x="416.4" y="1969" font-size="31" text-anchor="middle" font-family="Liberation Sans, sans-serif">1.2</text>
<text x="503.8" y="1969" font-size="31" text-anchor="middle" font-family="Liberation Sans, sans-serif">1.3</text>
<text x="509" y="1941.8" font-size="31" font-family="Liberation Sans, sans-serif">0</text>
<text x="509" y="1862" font-size="31" font-family="Liberation Sans, sans-serif">1</text>
<text x="509" y="1782.2" font-size="31" font-family="Liberation Sans, sans-serif">2</text>
<text x="509" y="1702.4" font-size="31" font-family="Liberation Sans, sans-serif">3</text>
<text x="509" y="1622.6" font-size="31" font-family="Liberation Sans, sans-serif">4</text>
<text x="178.7" y="1994.9" font-size="30" fill="#222" textLength="284" lengthAdjust="spacingAndGlyphs" font-family="Liberation Sans, sans-serif">PL peak energy (eV)</text>
<text x="824.6" y="1604.2" font-size="33" font-family="Liberation Sans, sans-serif">HBP <tspan font-style="italic">T</tspan><tspan font-size="22" dy="9">a</tspan><tspan dy="-9"> (</tspan><tspan font-size="21" dy="-12">o</tspan><tspan dy="12">C)</tspan></text>
<rect x="854.4" y="1636.3" width="13.3" height="13.3" fill="#000000"/>
<text x="910.6" y="1653.2" font-size="32" font-family="Liberation Sans, sans-serif">1050</text>
<rect x="854.4" y="1676.1" width="13.3" height="13.3" fill="#ff0000"/>
<text x="910.6" y="1693" font-size="32" font-family="Liberation Sans, sans-serif">1100</text>
<rect x="854.4" y="1717.8" width="13.3" height="13.3" fill="#00ff00"/>
<text x="910.6" y="1734.5" font-size="32" font-family="Liberation Sans, sans-serif">1150</text>
<rect x="854.4" y="1757.3" width="13.3" height="13.3" fill="#0000ff"/>
<text x="910.6" y="1774.3" font-size="32" font-family="Liberation Sans, sans-serif">1200</text>
<text x="824.6" y="1819.5" font-size="33" font-family="Liberation Sans, sans-serif">LBP <tspan font-style="italic">T</tspan><tspan font-size="22" dy="9">a</tspan><tspan dy="-9"> (</tspan><tspan font-size="21" dy="-12">o</tspan><tspan dy="12">C)</tspan></text>
<path d="M852.2,1862.5 h17.5 l-8.8,-14 z" fill="#808000"/>
<text x="910.6" y="1868.9" font-size="32" font-family="Liberation Sans, sans-serif">1050</text>
<path d="M852.2,1902.2 h17.5 l-8.8,-14 z" fill="#ff8000"/>
<text x="910.6" y="1908.7" font-size="32" font-family="Liberation Sans, sans-serif">1100</text>
<path d="M852.2,1943.4 h17.5 l-8.8,-14 z" fill="#ff00ff"/>
<text x="910.6" y="1949.3" font-size="32" font-family="Liberation Sans, sans-serif">1150</text>
<path d="M852.2,1983.5 h17.5 l-8.8,-14 z" fill="#00ffff"/>
<text x="910.6" y="1988.5" font-size="32" font-family="Liberation Sans, sans-serif">1200</text>
</svg></body></html>
